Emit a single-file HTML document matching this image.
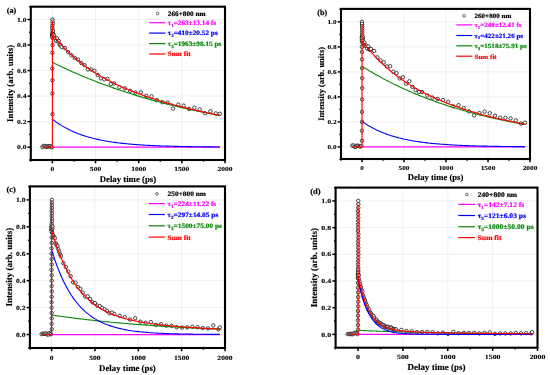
<!DOCTYPE html>
<html lang="en"><head><meta charset="utf-8"><title>Decay fits</title>
<style>html,body{margin:0;padding:0;background:#fff}svg{display:block}</style></head>
<body>
<svg width="550" height="375" viewBox="0 0 550 375" font-family="'Liberation Serif','Times New Roman',serif" font-weight="bold" text-rendering="geometricPrecision">
<rect width="550" height="375" fill="#fff"/>
<g><line x1="52.38" y1="6.7" x2="52.38" y2="160" stroke="#e6e6e6" stroke-width="0.6"/><line x1="95.53" y1="6.7" x2="95.53" y2="160" stroke="#e6e6e6" stroke-width="0.6"/><line x1="138.69" y1="6.7" x2="138.69" y2="160" stroke="#e6e6e6" stroke-width="0.6"/><line x1="181.84" y1="6.7" x2="181.84" y2="160" stroke="#e6e6e6" stroke-width="0.6"/><line x1="30.8" y1="147.22" x2="225" y2="147.22" stroke="#e6e6e6" stroke-width="0.6"/><line x1="30.8" y1="121.67" x2="225" y2="121.67" stroke="#e6e6e6" stroke-width="0.6"/><line x1="30.8" y1="96.12" x2="225" y2="96.12" stroke="#e6e6e6" stroke-width="0.6"/><line x1="30.8" y1="70.57" x2="225" y2="70.57" stroke="#e6e6e6" stroke-width="0.6"/><line x1="30.8" y1="45.02" x2="225" y2="45.02" stroke="#e6e6e6" stroke-width="0.6"/><line x1="30.8" y1="19.47" x2="225" y2="19.47" stroke="#e6e6e6" stroke-width="0.6"/><circle cx="42.45" cy="147.02" r="1.72" fill="#fff" stroke="#181818" stroke-width="0.8"/><circle cx="43.75" cy="145.93" r="1.72" fill="#fff" stroke="#181818" stroke-width="0.8"/><circle cx="44.78" cy="146.05" r="1.72" fill="#fff" stroke="#181818" stroke-width="0.8"/><circle cx="45.9" cy="146.83" r="1.72" fill="#fff" stroke="#181818" stroke-width="0.8"/><circle cx="47.03" cy="146.47" r="1.72" fill="#fff" stroke="#181818" stroke-width="0.8"/><circle cx="48.06" cy="146.54" r="1.72" fill="#fff" stroke="#181818" stroke-width="0.8"/><circle cx="49.1" cy="146.23" r="1.72" fill="#fff" stroke="#181818" stroke-width="0.8"/><circle cx="50.13" cy="146.02" r="1.72" fill="#fff" stroke="#181818" stroke-width="0.8"/><circle cx="51.08" cy="147.08" r="1.72" fill="#fff" stroke="#181818" stroke-width="0.8"/><circle cx="51.86" cy="147.18" r="1.72" fill="#fff" stroke="#181818" stroke-width="0.8"/><circle cx="52.54" cy="114.14" r="1.72" fill="#fff" stroke="#181818" stroke-width="0.8"/><circle cx="52.4" cy="93.44" r="1.72" fill="#fff" stroke="#181818" stroke-width="0.8"/><circle cx="52.51" cy="80.28" r="1.72" fill="#fff" stroke="#181818" stroke-width="0.8"/><circle cx="52.25" cy="68.53" r="1.72" fill="#fff" stroke="#181818" stroke-width="0.8"/><circle cx="52.4" cy="52.69" r="1.72" fill="#fff" stroke="#181818" stroke-width="0.8"/><circle cx="52.5" cy="45.02" r="1.72" fill="#fff" stroke="#181818" stroke-width="0.8"/><circle cx="52.39" cy="19.47" r="1.72" fill="#fff" stroke="#181818" stroke-width="0.8"/><circle cx="52.7" cy="21.65" r="1.72" fill="#fff" stroke="#181818" stroke-width="0.8"/><circle cx="52.68" cy="23.82" r="1.72" fill="#fff" stroke="#181818" stroke-width="0.8"/><circle cx="52.3" cy="25.99" r="1.72" fill="#fff" stroke="#181818" stroke-width="0.8"/><circle cx="52.3" cy="28.16" r="1.72" fill="#fff" stroke="#181818" stroke-width="0.8"/><circle cx="52.53" cy="30.33" r="1.72" fill="#fff" stroke="#181818" stroke-width="0.8"/><circle cx="52.7" cy="32.51" r="1.72" fill="#fff" stroke="#181818" stroke-width="0.8"/><circle cx="52.46" cy="34.68" r="1.72" fill="#fff" stroke="#181818" stroke-width="0.8"/><circle cx="52.37" cy="34.49" r="1.72" fill="#fff" stroke="#181818" stroke-width="0.8"/><circle cx="52.23" cy="36.16" r="1.72" fill="#fff" stroke="#181818" stroke-width="0.8"/><circle cx="52.55" cy="33.88" r="1.72" fill="#fff" stroke="#181818" stroke-width="0.8"/><circle cx="52.39" cy="36.08" r="1.72" fill="#fff" stroke="#181818" stroke-width="0.8"/><circle cx="52.38" cy="34.18" r="1.72" fill="#fff" stroke="#181818" stroke-width="0.8"/><circle cx="52.43" cy="37.82" r="1.72" fill="#fff" stroke="#181818" stroke-width="0.8"/><circle cx="52.86" cy="33.38" r="1.72" fill="#fff" stroke="#181818" stroke-width="0.8"/><circle cx="52.7" cy="36.46" r="1.72" fill="#fff" stroke="#181818" stroke-width="0.8"/><circle cx="52.98" cy="30.86" r="1.72" fill="#fff" stroke="#181818" stroke-width="0.8"/><circle cx="53.07" cy="34.14" r="1.72" fill="#fff" stroke="#181818" stroke-width="0.8"/><circle cx="54.02" cy="35.39" r="1.72" fill="#fff" stroke="#181818" stroke-width="0.8"/><circle cx="54.97" cy="37.83" r="1.72" fill="#fff" stroke="#181818" stroke-width="0.8"/><circle cx="55.92" cy="40.78" r="1.72" fill="#fff" stroke="#181818" stroke-width="0.8"/><circle cx="56.87" cy="38.38" r="1.72" fill="#fff" stroke="#181818" stroke-width="0.8"/><circle cx="57.82" cy="41.42" r="1.72" fill="#fff" stroke="#181818" stroke-width="0.8"/><circle cx="58.76" cy="40.94" r="1.72" fill="#fff" stroke="#181818" stroke-width="0.8"/><circle cx="59.71" cy="44.86" r="1.72" fill="#fff" stroke="#181818" stroke-width="0.8"/><circle cx="60.66" cy="44.7" r="1.72" fill="#fff" stroke="#181818" stroke-width="0.8"/><circle cx="61.61" cy="46.94" r="1.72" fill="#fff" stroke="#181818" stroke-width="0.8"/><circle cx="64.89" cy="48.11" r="1.72" fill="#fff" stroke="#181818" stroke-width="0.8"/><circle cx="68.17" cy="52.14" r="1.72" fill="#fff" stroke="#181818" stroke-width="0.8"/><circle cx="71.45" cy="55.26" r="1.72" fill="#fff" stroke="#181818" stroke-width="0.8"/><circle cx="74.73" cy="57.89" r="1.72" fill="#fff" stroke="#181818" stroke-width="0.8"/><circle cx="78.01" cy="59.56" r="1.72" fill="#fff" stroke="#181818" stroke-width="0.8"/><circle cx="81.29" cy="62.96" r="1.72" fill="#fff" stroke="#181818" stroke-width="0.8"/><circle cx="84.57" cy="65.23" r="1.72" fill="#fff" stroke="#181818" stroke-width="0.8"/><circle cx="87.85" cy="69.4" r="1.72" fill="#fff" stroke="#181818" stroke-width="0.8"/><circle cx="91.13" cy="69.42" r="1.72" fill="#fff" stroke="#181818" stroke-width="0.8"/><circle cx="94.41" cy="70.8" r="1.72" fill="#fff" stroke="#181818" stroke-width="0.8"/><circle cx="97.69" cy="75.01" r="1.72" fill="#fff" stroke="#181818" stroke-width="0.8"/><circle cx="100.97" cy="78.35" r="1.72" fill="#fff" stroke="#181818" stroke-width="0.8"/><circle cx="104.25" cy="79.25" r="1.72" fill="#fff" stroke="#181818" stroke-width="0.8"/><circle cx="107.53" cy="78.89" r="1.72" fill="#fff" stroke="#181818" stroke-width="0.8"/><circle cx="110.81" cy="84.1" r="1.72" fill="#fff" stroke="#181818" stroke-width="0.8"/><circle cx="114.09" cy="83.42" r="1.72" fill="#fff" stroke="#181818" stroke-width="0.8"/><circle cx="119.44" cy="87.21" r="1.72" fill="#fff" stroke="#181818" stroke-width="0.8"/><circle cx="124.79" cy="88.37" r="1.72" fill="#fff" stroke="#181818" stroke-width="0.8"/><circle cx="130.14" cy="90.76" r="1.72" fill="#fff" stroke="#181818" stroke-width="0.8"/><circle cx="135.5" cy="92.5" r="1.72" fill="#fff" stroke="#181818" stroke-width="0.8"/><circle cx="140.85" cy="92.41" r="1.72" fill="#fff" stroke="#181818" stroke-width="0.8"/><circle cx="146.2" cy="95.82" r="1.72" fill="#fff" stroke="#181818" stroke-width="0.8"/><circle cx="151.55" cy="96.33" r="1.72" fill="#fff" stroke="#181818" stroke-width="0.8"/><circle cx="156.9" cy="100.12" r="1.72" fill="#fff" stroke="#181818" stroke-width="0.8"/><circle cx="162.25" cy="102.22" r="1.72" fill="#fff" stroke="#181818" stroke-width="0.8"/><circle cx="167.6" cy="102.57" r="1.72" fill="#fff" stroke="#181818" stroke-width="0.8"/><circle cx="172.95" cy="108.58" r="1.72" fill="#fff" stroke="#181818" stroke-width="0.8"/><circle cx="178.31" cy="104.55" r="1.72" fill="#fff" stroke="#181818" stroke-width="0.8"/><circle cx="183.66" cy="105.63" r="1.72" fill="#fff" stroke="#181818" stroke-width="0.8"/><circle cx="189.01" cy="108.91" r="1.72" fill="#fff" stroke="#181818" stroke-width="0.8"/><circle cx="194.36" cy="107.78" r="1.72" fill="#fff" stroke="#181818" stroke-width="0.8"/><circle cx="199.71" cy="109.41" r="1.72" fill="#fff" stroke="#181818" stroke-width="0.8"/><circle cx="205.06" cy="113.25" r="1.72" fill="#fff" stroke="#181818" stroke-width="0.8"/><circle cx="210.41" cy="111.22" r="1.72" fill="#fff" stroke="#181818" stroke-width="0.8"/><circle cx="215.76" cy="113.38" r="1.72" fill="#fff" stroke="#181818" stroke-width="0.8"/><circle cx="219.82" cy="113.82" r="1.72" fill="#fff" stroke="#181818" stroke-width="0.8"/><path d="M52.38 147.22 L219.99 147.22" stroke="#ff00ff" stroke-width="1.2" fill="none"/><path d="M52.38 62.27 L52.51 62.34 L52.74 62.45 L53.04 62.6 L53.4 62.78 L53.8 62.98 L54.25 63.21 L54.74 63.45 L55.26 63.71 L55.82 63.98 L56.41 64.27 L57.03 64.57 L57.68 64.89 L58.35 65.22 L59.06 65.56 L59.79 65.91 L60.54 66.27 L61.32 66.64 L62.12 67.02 L62.94 67.4 L63.78 67.8 L64.65 68.21 L65.54 68.62 L66.44 69.04 L67.37 69.47 L68.32 69.9 L69.28 70.34 L70.27 70.78 L71.27 71.23 L72.29 71.69 L73.33 72.15 L74.39 72.62 L75.46 73.09 L76.55 73.57 L77.66 74.05 L78.78 74.53 L79.92 75.02 L81.08 75.51 L82.25 76 L83.43 76.5 L84.64 77 L85.85 77.5 L87.08 78.01 L88.33 78.51 L89.59 79.02 L90.87 79.54 L92.16 80.05 L93.46 80.56 L94.78 81.08 L96.11 81.6 L97.46 82.12 L98.82 82.64 L100.19 83.16 L101.58 83.68 L102.98 84.2 L104.39 84.73 L105.81 85.25 L107.25 85.77 L108.7 86.3 L110.16 86.82 L111.64 87.35 L113.13 87.87 L114.63 88.39 L116.14 88.91 L117.66 89.44 L119.2 89.96 L120.75 90.48 L122.31 91 L123.88 91.52 L125.46 92.04 L127.06 92.55 L128.66 93.07 L130.28 93.58 L131.91 94.1 L133.55 94.61 L135.2 95.12 L136.86 95.63 L138.53 96.13 L140.22 96.64 L141.91 97.14 L143.62 97.64 L145.33 98.14 L147.06 98.64 L148.8 99.14 L150.54 99.63 L152.3 100.12 L154.07 100.61 L155.85 101.1 L157.64 101.58 L159.44 102.06 L161.25 102.54 L163.07 103.02 L164.9 103.5 L166.74 103.97 L168.59 104.44 L170.45 104.91 L172.31 105.37 L174.19 105.83 L176.08 106.29 L177.98 106.75 L179.89 107.2 L181.81 107.65 L183.73 108.1 L185.67 108.54 L187.61 108.98 L189.57 109.42 L191.53 109.86 L193.51 110.29 L195.49 110.72 L197.48 111.15 L199.48 111.57 L201.5 111.99 L203.51 112.41 L205.54 112.82 L207.58 113.23 L209.63 113.64 L211.68 114.05 L213.75 114.45 L215.82 114.85 L217.9 115.24 L219.99 115.64" fill="none" stroke="#0a8a0a" stroke-width="1.1" stroke-linejoin="round"/><path d="M52.38 119.12 L52.51 119.22 L52.74 119.4 L53.04 119.64 L53.4 119.92 L53.8 120.23 L54.25 120.57 L54.74 120.93 L55.26 121.32 L55.82 121.73 L56.41 122.15 L57.03 122.58 L57.68 123.03 L58.35 123.49 L59.06 123.95 L59.79 124.43 L60.54 124.91 L61.32 125.39 L62.12 125.88 L62.94 126.37 L63.78 126.86 L64.65 127.36 L65.54 127.85 L66.44 128.34 L67.37 128.83 L68.32 129.31 L69.28 129.79 L70.27 130.27 L71.27 130.75 L72.29 131.21 L73.33 131.68 L74.39 132.14 L75.46 132.59 L76.55 133.03 L77.66 133.47 L78.78 133.9 L79.92 134.32 L81.08 134.73 L82.25 135.14 L83.43 135.54 L84.64 135.93 L85.85 136.31 L87.08 136.69 L88.33 137.05 L89.59 137.41 L90.87 137.75 L92.16 138.09 L93.46 138.42 L94.78 138.75 L96.11 139.06 L97.46 139.36 L98.82 139.66 L100.19 139.95 L101.58 140.23 L102.98 140.5 L104.39 140.76 L105.81 141.02 L107.25 141.26 L108.7 141.5 L110.16 141.73 L111.64 141.96 L113.13 142.18 L114.63 142.39 L116.14 142.59 L117.66 142.78 L119.2 142.97 L120.75 143.15 L122.31 143.33 L123.88 143.5 L125.46 143.66 L127.06 143.82 L128.66 143.97 L130.28 144.12 L131.91 144.26 L133.55 144.39 L135.2 144.52 L136.86 144.64 L138.53 144.76 L140.22 144.88 L141.91 144.99 L143.62 145.09 L145.33 145.19 L147.06 145.29 L148.8 145.38 L150.54 145.47 L152.3 145.56 L154.07 145.64 L155.85 145.72 L157.64 145.79 L159.44 145.86 L161.25 145.93 L163.07 145.99 L164.9 146.06 L166.74 146.12 L168.59 146.17 L170.45 146.23 L172.31 146.28 L174.19 146.33 L176.08 146.37 L177.98 146.42 L179.89 146.46 L181.81 146.5 L183.73 146.54 L185.67 146.57 L187.61 146.61 L189.57 146.64 L191.53 146.67 L193.51 146.7 L195.49 146.73 L197.48 146.76 L199.48 146.79 L201.5 146.81 L203.51 146.83 L205.54 146.85 L207.58 146.88 L209.63 146.89 L211.68 146.91 L213.75 146.93 L215.82 146.95 L217.9 146.96 L219.99 146.98" fill="none" stroke="#0000ff" stroke-width="1.1" stroke-linejoin="round"/><path d="M43.75 147.22 L52.38 147.22 L52.42 21.39 L52.38 34.17 L52.51 34.33 L52.74 34.63 L53.04 35.02 L53.4 35.47 L53.8 35.99 L54.25 36.55 L54.74 37.16 L55.26 37.8 L55.82 38.48 L56.41 39.19 L57.03 39.93 L57.68 40.69 L58.35 41.48 L59.06 42.28 L59.79 43.11 L60.54 43.95 L61.32 44.8 L62.12 45.67 L62.94 46.55 L63.78 47.44 L64.65 48.34 L65.54 49.24 L66.44 50.15 L67.37 51.07 L68.32 51.99 L69.28 52.91 L70.27 53.83 L71.27 54.76 L72.29 55.68 L73.33 56.61 L74.39 57.53 L75.46 58.45 L76.55 59.37 L77.66 60.29 L78.78 61.2 L79.92 62.11 L81.08 63.02 L82.25 63.92 L83.43 64.81 L84.64 65.7 L85.85 66.59 L87.08 67.47 L88.33 68.34 L89.59 69.21 L90.87 70.06 L92.16 70.92 L93.46 71.76 L94.78 72.6 L96.11 73.43 L97.46 74.26 L98.82 75.07 L100.19 75.88 L101.58 76.68 L102.98 77.48 L104.39 78.26 L105.81 79.04 L107.25 79.81 L108.7 80.58 L110.16 81.33 L111.64 82.08 L113.13 82.82 L114.63 83.55 L116.14 84.28 L117.66 85 L119.2 85.71 L120.75 86.41 L122.31 87.1 L123.88 87.79 L125.46 88.47 L127.06 89.15 L128.66 89.81 L130.28 90.47 L131.91 91.13 L133.55 91.77 L135.2 92.41 L136.86 93.05 L138.53 93.67 L140.22 94.29 L141.91 94.9 L143.62 95.51 L145.33 96.11 L147.06 96.71 L148.8 97.29 L150.54 97.88 L152.3 98.45 L154.07 99.02 L155.85 99.59 L157.64 100.15 L159.44 100.7 L161.25 101.25 L163.07 101.79 L164.9 102.33 L166.74 102.86 L168.59 103.38 L170.45 103.91 L172.31 104.42 L174.19 104.93 L176.08 105.44 L177.98 105.94 L179.89 106.43 L181.81 106.92 L183.73 107.41 L185.67 107.89 L187.61 108.37 L189.57 108.84 L191.53 109.31 L193.51 109.77 L195.49 110.23 L197.48 110.68 L199.48 111.13 L201.5 111.58 L203.51 112.02 L205.54 112.45 L207.58 112.88 L209.63 113.31 L211.68 113.74 L213.75 114.16 L215.82 114.57 L217.9 114.98 L219.99 115.39" fill="none" stroke="#ff0000" stroke-width="1.15" stroke-linejoin="round"/><rect x="30.8" y="6.7" width="194.2" height="153.3" fill="none" stroke="#000" stroke-width="2.1"/><line x1="52.38" y1="160" x2="52.38" y2="163.3" stroke="#000" stroke-width="1.5"/><line x1="95.53" y1="160" x2="95.53" y2="163.3" stroke="#000" stroke-width="1.5"/><line x1="138.69" y1="160" x2="138.69" y2="163.3" stroke="#000" stroke-width="1.5"/><line x1="181.84" y1="160" x2="181.84" y2="163.3" stroke="#000" stroke-width="1.5"/><line x1="225" y1="160" x2="225" y2="163.3" stroke="#000" stroke-width="1.5"/><line x1="30.8" y1="160" x2="30.8" y2="161.7" stroke="#000" stroke-width="1.3"/><line x1="73.96" y1="160" x2="73.96" y2="161.7" stroke="#000" stroke-width="1.3"/><line x1="117.11" y1="160" x2="117.11" y2="161.7" stroke="#000" stroke-width="1.3"/><line x1="160.27" y1="160" x2="160.27" y2="161.7" stroke="#000" stroke-width="1.3"/><line x1="203.42" y1="160" x2="203.42" y2="161.7" stroke="#000" stroke-width="1.3"/><line x1="27.5" y1="147.22" x2="30.8" y2="147.22" stroke="#000" stroke-width="1.5"/><line x1="27.5" y1="121.67" x2="30.8" y2="121.67" stroke="#000" stroke-width="1.5"/><line x1="27.5" y1="96.12" x2="30.8" y2="96.12" stroke="#000" stroke-width="1.5"/><line x1="27.5" y1="70.57" x2="30.8" y2="70.57" stroke="#000" stroke-width="1.5"/><line x1="27.5" y1="45.02" x2="30.8" y2="45.02" stroke="#000" stroke-width="1.5"/><line x1="27.5" y1="19.47" x2="30.8" y2="19.47" stroke="#000" stroke-width="1.5"/><line x1="29.1" y1="160" x2="30.8" y2="160" stroke="#000" stroke-width="1.3"/><line x1="29.1" y1="134.45" x2="30.8" y2="134.45" stroke="#000" stroke-width="1.3"/><line x1="29.1" y1="108.9" x2="30.8" y2="108.9" stroke="#000" stroke-width="1.3"/><line x1="29.1" y1="83.35" x2="30.8" y2="83.35" stroke="#000" stroke-width="1.3"/><line x1="29.1" y1="57.8" x2="30.8" y2="57.8" stroke="#000" stroke-width="1.3"/><line x1="29.1" y1="32.25" x2="30.8" y2="32.25" stroke="#000" stroke-width="1.3"/><line x1="29.1" y1="6.7" x2="30.8" y2="6.7" stroke="#000" stroke-width="1.3"/><text transform="translate(52.38 170.8) scale(1.05 0.86)" font-size="7.2" text-anchor="middle" stroke="#000" stroke-width="0.12">0</text><text transform="translate(95.53 170.8) scale(1.05 0.86)" font-size="7.2" text-anchor="middle" stroke="#000" stroke-width="0.12">500</text><text transform="translate(138.69 170.8) scale(1.05 0.86)" font-size="7.2" text-anchor="middle" stroke="#000" stroke-width="0.12">1000</text><text transform="translate(181.84 170.8) scale(1.05 0.86)" font-size="7.2" text-anchor="middle" stroke="#000" stroke-width="0.12">1500</text><text transform="translate(225 170.8) scale(1.05 0.86)" font-size="7.2" text-anchor="middle" stroke="#000" stroke-width="0.12">2000</text><text transform="translate(26.4 149.31) scale(1.05 0.86)" font-size="7.2" text-anchor="end" stroke="#000" stroke-width="0.12">0.0</text><text transform="translate(26.4 123.76) scale(1.05 0.86)" font-size="7.2" text-anchor="end" stroke="#000" stroke-width="0.12">0.2</text><text transform="translate(26.4 98.21) scale(1.05 0.86)" font-size="7.2" text-anchor="end" stroke="#000" stroke-width="0.12">0.4</text><text transform="translate(26.4 72.66) scale(1.05 0.86)" font-size="7.2" text-anchor="end" stroke="#000" stroke-width="0.12">0.6</text><text transform="translate(26.4 47.11) scale(1.05 0.86)" font-size="7.2" text-anchor="end" stroke="#000" stroke-width="0.12">0.8</text><text transform="translate(26.4 21.56) scale(1.05 0.86)" font-size="7.2" text-anchor="end" stroke="#000" stroke-width="0.12">1.0</text><text x="127.9" y="182.4" font-size="8.75" text-anchor="middle" stroke="#000" stroke-width="0.15">Delay time (ps)</text><text transform="translate(12.8 83.35) rotate(-90)" font-size="8.75" text-anchor="middle" stroke="#000" stroke-width="0.15">Intensity (arb. units)</text><text transform="translate(6.7 12.9) scale(0.97 0.92)" font-size="8.5" stroke="#000" stroke-width="0.22">(a)</text><circle cx="157.6" cy="13.5" r="1.35" fill="#fff" stroke="#202020" stroke-width="0.65"/><text transform="translate(167.8 15.88) scale(1.01 0.93)" font-size="7.2" stroke="#000" stroke-width="0.22">266+800 nm</text><line x1="149.1" y1="22.7" x2="165.5" y2="22.7" stroke="#ff00ff" stroke-width="1.2"/><text transform="translate(167.8 25.08) scale(1.01 0.93)" font-size="7.2" fill="#ff00ff" stroke="#ff00ff" stroke-width="0.22">τ<tspan font-size="5.04" dy="1.8">1</tspan><tspan dy="-1.8">=263±13.14 fs</tspan></text><line x1="149.1" y1="33.1" x2="165.5" y2="33.1" stroke="#0000ff" stroke-width="1.2"/><text transform="translate(167.8 35.48) scale(1.01 0.93)" font-size="7.2" fill="#0000ff" stroke="#0000ff" stroke-width="0.22">τ<tspan font-size="5.04" dy="1.8">2</tspan><tspan dy="-1.8">=410±20.52 ps</tspan></text><line x1="149.1" y1="43.6" x2="165.5" y2="43.6" stroke="#0a8a0a" stroke-width="1.2"/><text transform="translate(167.8 45.98) scale(1.01 0.93)" font-size="7.2" fill="#0a8a0a" stroke="#0a8a0a" stroke-width="0.22">τ<tspan font-size="5.04" dy="1.8">3</tspan><tspan dy="-1.8">=1963±98.15 ps</tspan></text><line x1="149.1" y1="54" x2="165.5" y2="54" stroke="#ff0000" stroke-width="1.2"/><text transform="translate(167.8 56.38) scale(1.01 0.93)" font-size="7.2" fill="#ff0000" stroke="#ff0000" stroke-width="0.22">Sum fit</text></g>
<g><line x1="362" y1="8.9" x2="362" y2="159" stroke="#e6e6e6" stroke-width="0.6"/><line x1="404" y1="8.9" x2="404" y2="159" stroke="#e6e6e6" stroke-width="0.6"/><line x1="446" y1="8.9" x2="446" y2="159" stroke="#e6e6e6" stroke-width="0.6"/><line x1="488" y1="8.9" x2="488" y2="159" stroke="#e6e6e6" stroke-width="0.6"/><line x1="341" y1="146.94" x2="530" y2="146.94" stroke="#e6e6e6" stroke-width="0.6"/><line x1="341" y1="121.92" x2="530" y2="121.92" stroke="#e6e6e6" stroke-width="0.6"/><line x1="341" y1="96.91" x2="530" y2="96.91" stroke="#e6e6e6" stroke-width="0.6"/><line x1="341" y1="71.89" x2="530" y2="71.89" stroke="#e6e6e6" stroke-width="0.6"/><line x1="341" y1="46.88" x2="530" y2="46.88" stroke="#e6e6e6" stroke-width="0.6"/><line x1="341" y1="21.86" x2="530" y2="21.86" stroke="#e6e6e6" stroke-width="0.6"/><circle cx="352.34" cy="145.51" r="1.72" fill="#fff" stroke="#181818" stroke-width="0.8"/><circle cx="353.6" cy="145.52" r="1.72" fill="#fff" stroke="#181818" stroke-width="0.8"/><circle cx="354.61" cy="146.86" r="1.72" fill="#fff" stroke="#181818" stroke-width="0.8"/><circle cx="355.7" cy="146.81" r="1.72" fill="#fff" stroke="#181818" stroke-width="0.8"/><circle cx="356.79" cy="145.69" r="1.72" fill="#fff" stroke="#181818" stroke-width="0.8"/><circle cx="357.8" cy="145.84" r="1.72" fill="#fff" stroke="#181818" stroke-width="0.8"/><circle cx="358.81" cy="145.94" r="1.72" fill="#fff" stroke="#181818" stroke-width="0.8"/><circle cx="359.82" cy="146.48" r="1.72" fill="#fff" stroke="#181818" stroke-width="0.8"/><circle cx="360.74" cy="146.03" r="1.72" fill="#fff" stroke="#181818" stroke-width="0.8"/><circle cx="361.5" cy="146.03" r="1.72" fill="#fff" stroke="#181818" stroke-width="0.8"/><circle cx="362.07" cy="140.69" r="1.72" fill="#fff" stroke="#181818" stroke-width="0.8"/><circle cx="361.93" cy="130.68" r="1.72" fill="#fff" stroke="#181818" stroke-width="0.8"/><circle cx="362.02" cy="121.92" r="1.72" fill="#fff" stroke="#181818" stroke-width="0.8"/><circle cx="362.01" cy="111.92" r="1.72" fill="#fff" stroke="#181818" stroke-width="0.8"/><circle cx="362.12" cy="99.41" r="1.72" fill="#fff" stroke="#181818" stroke-width="0.8"/><circle cx="362.21" cy="88.15" r="1.72" fill="#fff" stroke="#181818" stroke-width="0.8"/><circle cx="362.19" cy="78.15" r="1.72" fill="#fff" stroke="#181818" stroke-width="0.8"/><circle cx="362.06" cy="68.14" r="1.72" fill="#fff" stroke="#181818" stroke-width="0.8"/><circle cx="362.02" cy="59.38" r="1.72" fill="#fff" stroke="#181818" stroke-width="0.8"/><circle cx="361.96" cy="51.88" r="1.72" fill="#fff" stroke="#181818" stroke-width="0.8"/><circle cx="361.89" cy="46.88" r="1.72" fill="#fff" stroke="#181818" stroke-width="0.8"/><circle cx="361.93" cy="21.86" r="1.72" fill="#fff" stroke="#181818" stroke-width="0.8"/><circle cx="362.11" cy="23.98" r="1.72" fill="#fff" stroke="#181818" stroke-width="0.8"/><circle cx="362.05" cy="26.11" r="1.72" fill="#fff" stroke="#181818" stroke-width="0.8"/><circle cx="362.08" cy="28.24" r="1.72" fill="#fff" stroke="#181818" stroke-width="0.8"/><circle cx="362.29" cy="30.36" r="1.72" fill="#fff" stroke="#181818" stroke-width="0.8"/><circle cx="362.14" cy="32.49" r="1.72" fill="#fff" stroke="#181818" stroke-width="0.8"/><circle cx="362.15" cy="34.62" r="1.72" fill="#fff" stroke="#181818" stroke-width="0.8"/><circle cx="362.02" cy="36.74" r="1.72" fill="#fff" stroke="#181818" stroke-width="0.8"/><circle cx="361.93" cy="38.87" r="1.72" fill="#fff" stroke="#181818" stroke-width="0.8"/><circle cx="362.05" cy="41" r="1.72" fill="#fff" stroke="#181818" stroke-width="0.8"/><circle cx="361.94" cy="40.23" r="1.72" fill="#fff" stroke="#181818" stroke-width="0.8"/><circle cx="362.59" cy="38.89" r="1.72" fill="#fff" stroke="#181818" stroke-width="0.8"/><circle cx="361.97" cy="37.11" r="1.72" fill="#fff" stroke="#181818" stroke-width="0.8"/><circle cx="362.43" cy="38.4" r="1.72" fill="#fff" stroke="#181818" stroke-width="0.8"/><circle cx="362.52" cy="38.17" r="1.72" fill="#fff" stroke="#181818" stroke-width="0.8"/><circle cx="362.43" cy="41.5" r="1.72" fill="#fff" stroke="#181818" stroke-width="0.8"/><circle cx="362.57" cy="36.55" r="1.72" fill="#fff" stroke="#181818" stroke-width="0.8"/><circle cx="361.95" cy="38.24" r="1.72" fill="#fff" stroke="#181818" stroke-width="0.8"/><circle cx="362.37" cy="40.62" r="1.72" fill="#fff" stroke="#181818" stroke-width="0.8"/><circle cx="362.67" cy="43.09" r="1.72" fill="#fff" stroke="#181818" stroke-width="0.8"/><circle cx="363.6" cy="43.06" r="1.72" fill="#fff" stroke="#181818" stroke-width="0.8"/><circle cx="364.52" cy="42.51" r="1.72" fill="#fff" stroke="#181818" stroke-width="0.8"/><circle cx="365.44" cy="45.88" r="1.72" fill="#fff" stroke="#181818" stroke-width="0.8"/><circle cx="366.37" cy="45.68" r="1.72" fill="#fff" stroke="#181818" stroke-width="0.8"/><circle cx="367.29" cy="48.58" r="1.72" fill="#fff" stroke="#181818" stroke-width="0.8"/><circle cx="368.22" cy="46.4" r="1.72" fill="#fff" stroke="#181818" stroke-width="0.8"/><circle cx="369.14" cy="49.17" r="1.72" fill="#fff" stroke="#181818" stroke-width="0.8"/><circle cx="370.06" cy="50.01" r="1.72" fill="#fff" stroke="#181818" stroke-width="0.8"/><circle cx="370.99" cy="48.92" r="1.72" fill="#fff" stroke="#181818" stroke-width="0.8"/><circle cx="374.18" cy="50.99" r="1.72" fill="#fff" stroke="#181818" stroke-width="0.8"/><circle cx="377.37" cy="57.36" r="1.72" fill="#fff" stroke="#181818" stroke-width="0.8"/><circle cx="380.56" cy="60.47" r="1.72" fill="#fff" stroke="#181818" stroke-width="0.8"/><circle cx="383.76" cy="62.45" r="1.72" fill="#fff" stroke="#181818" stroke-width="0.8"/><circle cx="386.95" cy="66.38" r="1.72" fill="#fff" stroke="#181818" stroke-width="0.8"/><circle cx="390.14" cy="66.24" r="1.72" fill="#fff" stroke="#181818" stroke-width="0.8"/><circle cx="393.33" cy="71.73" r="1.72" fill="#fff" stroke="#181818" stroke-width="0.8"/><circle cx="396.52" cy="73.12" r="1.72" fill="#fff" stroke="#181818" stroke-width="0.8"/><circle cx="399.72" cy="78.42" r="1.72" fill="#fff" stroke="#181818" stroke-width="0.8"/><circle cx="402.91" cy="77.31" r="1.72" fill="#fff" stroke="#181818" stroke-width="0.8"/><circle cx="406.1" cy="83.73" r="1.72" fill="#fff" stroke="#181818" stroke-width="0.8"/><circle cx="409.29" cy="81.29" r="1.72" fill="#fff" stroke="#181818" stroke-width="0.8"/><circle cx="412.48" cy="86.91" r="1.72" fill="#fff" stroke="#181818" stroke-width="0.8"/><circle cx="415.68" cy="89.91" r="1.72" fill="#fff" stroke="#181818" stroke-width="0.8"/><circle cx="418.87" cy="92.12" r="1.72" fill="#fff" stroke="#181818" stroke-width="0.8"/><circle cx="422.06" cy="92.08" r="1.72" fill="#fff" stroke="#181818" stroke-width="0.8"/><circle cx="427.27" cy="95.53" r="1.72" fill="#fff" stroke="#181818" stroke-width="0.8"/><circle cx="432.48" cy="97.63" r="1.72" fill="#fff" stroke="#181818" stroke-width="0.8"/><circle cx="437.68" cy="98.91" r="1.72" fill="#fff" stroke="#181818" stroke-width="0.8"/><circle cx="442.89" cy="99.95" r="1.72" fill="#fff" stroke="#181818" stroke-width="0.8"/><circle cx="448.1" cy="101.85" r="1.72" fill="#fff" stroke="#181818" stroke-width="0.8"/><circle cx="453.31" cy="106.34" r="1.72" fill="#fff" stroke="#181818" stroke-width="0.8"/><circle cx="458.52" cy="105.14" r="1.72" fill="#fff" stroke="#181818" stroke-width="0.8"/><circle cx="463.72" cy="107.99" r="1.72" fill="#fff" stroke="#181818" stroke-width="0.8"/><circle cx="468.93" cy="111.26" r="1.72" fill="#fff" stroke="#181818" stroke-width="0.8"/><circle cx="474.14" cy="115.34" r="1.72" fill="#fff" stroke="#181818" stroke-width="0.8"/><circle cx="479.35" cy="113.04" r="1.72" fill="#fff" stroke="#181818" stroke-width="0.8"/><circle cx="484.56" cy="111.65" r="1.72" fill="#fff" stroke="#181818" stroke-width="0.8"/><circle cx="489.76" cy="113.25" r="1.72" fill="#fff" stroke="#181818" stroke-width="0.8"/><circle cx="494.97" cy="115.68" r="1.72" fill="#fff" stroke="#181818" stroke-width="0.8"/><circle cx="500.18" cy="117.77" r="1.72" fill="#fff" stroke="#181818" stroke-width="0.8"/><circle cx="505.39" cy="117.81" r="1.72" fill="#fff" stroke="#181818" stroke-width="0.8"/><circle cx="510.6" cy="118.43" r="1.72" fill="#fff" stroke="#181818" stroke-width="0.8"/><circle cx="515.8" cy="120.42" r="1.72" fill="#fff" stroke="#181818" stroke-width="0.8"/><circle cx="521.01" cy="123.64" r="1.72" fill="#fff" stroke="#181818" stroke-width="0.8"/><circle cx="524.96" cy="122.71" r="1.72" fill="#fff" stroke="#181818" stroke-width="0.8"/><path d="M362 146.94 L525.13 146.94" stroke="#ff00ff" stroke-width="1.2" fill="none"/><path d="M362 66.26 L362.12 66.34 L362.35 66.48 L362.64 66.67 L362.99 66.89 L363.39 67.14 L363.82 67.41 L364.3 67.7 L364.81 68.02 L365.35 68.36 L365.92 68.71 L366.53 69.08 L367.16 69.46 L367.82 69.86 L368.5 70.27 L369.21 70.7 L369.94 71.13 L370.7 71.58 L371.48 72.04 L372.28 72.51 L373.1 72.99 L373.94 73.48 L374.81 73.97 L375.69 74.48 L376.59 74.99 L377.51 75.5 L378.45 76.03 L379.41 76.56 L380.39 77.1 L381.38 77.64 L382.39 78.19 L383.42 78.74 L384.46 79.29 L385.52 79.86 L386.6 80.42 L387.7 80.99 L388.8 81.56 L389.93 82.13 L391.07 82.71 L392.22 83.29 L393.39 83.87 L394.58 84.45 L395.78 85.04 L396.99 85.62 L398.22 86.21 L399.46 86.8 L400.72 87.39 L401.99 87.98 L403.27 88.57 L404.56 89.16 L405.87 89.75 L407.2 90.34 L408.53 90.93 L409.88 91.52 L411.24 92.11 L412.62 92.7 L414 93.28 L415.4 93.87 L416.81 94.45 L418.24 95.04 L419.67 95.62 L421.12 96.2 L422.58 96.77 L424.05 97.35 L425.54 97.92 L427.03 98.49 L428.54 99.06 L430.06 99.63 L431.59 100.19 L433.13 100.76 L434.68 101.31 L436.24 101.87 L437.82 102.42 L439.4 102.97 L441 103.52 L442.6 104.06 L444.22 104.6 L445.85 105.14 L447.49 105.68 L449.14 106.21 L450.8 106.73 L452.47 107.26 L454.15 107.77 L455.84 108.29 L457.54 108.8 L459.25 109.31 L460.97 109.82 L462.7 110.32 L464.44 110.81 L466.19 111.31 L467.95 111.79 L469.73 112.28 L471.51 112.76 L473.3 113.24 L475.1 113.71 L476.91 114.18 L478.72 114.64 L480.55 115.1 L482.39 115.56 L484.24 116.01 L486.1 116.46 L487.96 116.9 L489.84 117.34 L491.72 117.77 L493.62 118.2 L495.52 118.63 L497.43 119.05 L499.35 119.47 L501.28 119.88 L503.22 120.29 L505.17 120.69 L507.12 121.09 L509.09 121.49 L511.06 121.88 L513.05 122.26 L515.04 122.65 L517.04 123.02 L519.05 123.4 L521.07 123.77 L523.09 124.13 L525.13 124.49" fill="none" stroke="#0a8a0a" stroke-width="1.1" stroke-linejoin="round"/><path d="M362 121.3 L362.12 121.39 L362.35 121.55 L362.64 121.76 L362.99 122.01 L363.39 122.28 L363.82 122.59 L364.3 122.91 L364.81 123.25 L365.35 123.61 L365.92 123.99 L366.53 124.37 L367.16 124.77 L367.82 125.18 L368.5 125.6 L369.21 126.02 L369.94 126.45 L370.7 126.88 L371.48 127.32 L372.28 127.75 L373.1 128.19 L373.94 128.63 L374.81 129.07 L375.69 129.51 L376.59 129.95 L377.51 130.39 L378.45 130.82 L379.41 131.25 L380.39 131.68 L381.38 132.1 L382.39 132.52 L383.42 132.93 L384.46 133.34 L385.52 133.74 L386.6 134.13 L387.7 134.52 L388.8 134.9 L389.93 135.28 L391.07 135.65 L392.22 136.01 L393.39 136.37 L394.58 136.71 L395.78 137.05 L396.99 137.39 L398.22 137.71 L399.46 138.03 L400.72 138.34 L401.99 138.64 L403.27 138.94 L404.56 139.22 L405.87 139.5 L407.2 139.78 L408.53 140.04 L409.88 140.3 L411.24 140.55 L412.62 140.79 L414 141.03 L415.4 141.26 L416.81 141.48 L418.24 141.69 L419.67 141.9 L421.12 142.1 L422.58 142.3 L424.05 142.49 L425.54 142.67 L427.03 142.85 L428.54 143.02 L430.06 143.18 L431.59 143.34 L433.13 143.49 L434.68 143.64 L436.24 143.78 L437.82 143.92 L439.4 144.05 L441 144.18 L442.6 144.3 L444.22 144.42 L445.85 144.53 L447.49 144.64 L449.14 144.75 L450.8 144.85 L452.47 144.94 L454.15 145.04 L455.84 145.12 L457.54 145.21 L459.25 145.29 L460.97 145.37 L462.7 145.44 L464.44 145.52 L466.19 145.59 L467.95 145.65 L469.73 145.71 L471.51 145.77 L473.3 145.83 L475.1 145.89 L476.91 145.94 L478.72 145.99 L480.55 146.04 L482.39 146.08 L484.24 146.13 L486.1 146.17 L487.96 146.21 L489.84 146.25 L491.72 146.28 L493.62 146.32 L495.52 146.35 L497.43 146.38 L499.35 146.41 L501.28 146.44 L503.22 146.46 L505.17 146.49 L507.12 146.51 L509.09 146.54 L511.06 146.56 L513.05 146.58 L515.04 146.6 L517.04 146.62 L519.05 146.64 L521.07 146.65 L523.09 146.67 L525.13 146.68" fill="none" stroke="#0000ff" stroke-width="1.1" stroke-linejoin="round"/><path d="M353.6 146.94 L362 146.94 L362.04 25.61 L362 40.62 L362.12 40.79 L362.35 41.1 L362.64 41.49 L362.99 41.95 L363.39 42.48 L363.82 43.05 L364.3 43.67 L364.81 44.33 L365.35 45.03 L365.92 45.75 L366.53 46.51 L367.16 47.29 L367.82 48.1 L368.5 48.93 L369.21 49.77 L369.94 50.64 L370.7 51.52 L371.48 52.42 L372.28 53.32 L373.1 54.24 L373.94 55.17 L374.81 56.1 L375.69 57.05 L376.59 58 L377.51 58.95 L378.45 59.91 L379.41 60.87 L380.39 61.83 L381.38 62.8 L382.39 63.76 L383.42 64.72 L384.46 65.69 L385.52 66.65 L386.6 67.61 L387.7 68.57 L388.8 69.52 L389.93 70.47 L391.07 71.42 L392.22 72.36 L393.39 73.29 L394.58 74.22 L395.78 75.15 L396.99 76.07 L398.22 76.98 L399.46 77.89 L400.72 78.79 L401.99 79.68 L403.27 80.57 L404.56 81.44 L405.87 82.31 L407.2 83.18 L408.53 84.03 L409.88 84.88 L411.24 85.72 L412.62 86.55 L414 87.37 L415.4 88.18 L416.81 88.99 L418.24 89.79 L419.67 90.58 L421.12 91.36 L422.58 92.13 L424.05 92.9 L425.54 93.65 L427.03 94.4 L428.54 95.14 L430.06 95.87 L431.59 96.59 L433.13 97.31 L434.68 98.01 L436.24 98.71 L437.82 99.4 L439.4 100.08 L441 100.76 L442.6 101.42 L444.22 102.08 L445.85 102.73 L447.49 103.38 L449.14 104.01 L450.8 104.64 L452.47 105.26 L454.15 105.87 L455.84 106.47 L457.54 107.07 L459.25 107.66 L460.97 108.24 L462.7 108.82 L464.44 109.39 L466.19 109.95 L467.95 110.5 L469.73 111.05 L471.51 111.59 L473.3 112.13 L475.1 112.65 L476.91 113.17 L478.72 113.69 L480.55 114.2 L482.39 114.7 L484.24 115.19 L486.1 115.68 L487.96 116.16 L489.84 116.64 L491.72 117.11 L493.62 117.58 L495.52 118.03 L497.43 118.49 L499.35 118.93 L501.28 119.37 L503.22 119.81 L505.17 120.24 L507.12 120.66 L509.09 121.08 L511.06 121.49 L513.05 121.9 L515.04 122.3 L517.04 122.7 L519.05 123.09 L521.07 123.48 L523.09 123.86 L525.13 124.24" fill="none" stroke="#ff0000" stroke-width="1.15" stroke-linejoin="round"/><rect x="341" y="8.9" width="189" height="150.1" fill="none" stroke="#000" stroke-width="2.1"/><line x1="362" y1="159" x2="362" y2="162.3" stroke="#000" stroke-width="1.5"/><line x1="404" y1="159" x2="404" y2="162.3" stroke="#000" stroke-width="1.5"/><line x1="446" y1="159" x2="446" y2="162.3" stroke="#000" stroke-width="1.5"/><line x1="488" y1="159" x2="488" y2="162.3" stroke="#000" stroke-width="1.5"/><line x1="530" y1="159" x2="530" y2="162.3" stroke="#000" stroke-width="1.5"/><line x1="341" y1="159" x2="341" y2="160.7" stroke="#000" stroke-width="1.3"/><line x1="383" y1="159" x2="383" y2="160.7" stroke="#000" stroke-width="1.3"/><line x1="425" y1="159" x2="425" y2="160.7" stroke="#000" stroke-width="1.3"/><line x1="467" y1="159" x2="467" y2="160.7" stroke="#000" stroke-width="1.3"/><line x1="509" y1="159" x2="509" y2="160.7" stroke="#000" stroke-width="1.3"/><line x1="337.7" y1="146.94" x2="341" y2="146.94" stroke="#000" stroke-width="1.5"/><line x1="337.7" y1="121.92" x2="341" y2="121.92" stroke="#000" stroke-width="1.5"/><line x1="337.7" y1="96.91" x2="341" y2="96.91" stroke="#000" stroke-width="1.5"/><line x1="337.7" y1="71.89" x2="341" y2="71.89" stroke="#000" stroke-width="1.5"/><line x1="337.7" y1="46.88" x2="341" y2="46.88" stroke="#000" stroke-width="1.5"/><line x1="337.7" y1="21.86" x2="341" y2="21.86" stroke="#000" stroke-width="1.5"/><line x1="339.3" y1="159.45" x2="341" y2="159.45" stroke="#000" stroke-width="1.3"/><line x1="339.3" y1="134.43" x2="341" y2="134.43" stroke="#000" stroke-width="1.3"/><line x1="339.3" y1="109.42" x2="341" y2="109.42" stroke="#000" stroke-width="1.3"/><line x1="339.3" y1="84.4" x2="341" y2="84.4" stroke="#000" stroke-width="1.3"/><line x1="339.3" y1="59.38" x2="341" y2="59.38" stroke="#000" stroke-width="1.3"/><line x1="339.3" y1="34.37" x2="341" y2="34.37" stroke="#000" stroke-width="1.3"/><line x1="339.3" y1="9.35" x2="341" y2="9.35" stroke="#000" stroke-width="1.3"/><text transform="translate(362 169.5) scale(1.05 0.86)" font-size="7.0" text-anchor="middle" stroke="#000" stroke-width="0.12">0</text><text transform="translate(404 169.5) scale(1.05 0.86)" font-size="7.0" text-anchor="middle" stroke="#000" stroke-width="0.12">500</text><text transform="translate(446 169.5) scale(1.05 0.86)" font-size="7.0" text-anchor="middle" stroke="#000" stroke-width="0.12">1000</text><text transform="translate(488 169.5) scale(1.05 0.86)" font-size="7.0" text-anchor="middle" stroke="#000" stroke-width="0.12">1500</text><text transform="translate(530 169.5) scale(1.05 0.86)" font-size="7.0" text-anchor="middle" stroke="#000" stroke-width="0.12">2000</text><text transform="translate(336.6 148.97) scale(1.05 0.86)" font-size="7.0" text-anchor="end" stroke="#000" stroke-width="0.12">0.0</text><text transform="translate(336.6 123.95) scale(1.05 0.86)" font-size="7.0" text-anchor="end" stroke="#000" stroke-width="0.12">0.2</text><text transform="translate(336.6 98.94) scale(1.05 0.86)" font-size="7.0" text-anchor="end" stroke="#000" stroke-width="0.12">0.4</text><text transform="translate(336.6 73.92) scale(1.05 0.86)" font-size="7.0" text-anchor="end" stroke="#000" stroke-width="0.12">0.6</text><text transform="translate(336.6 48.91) scale(1.05 0.86)" font-size="7.0" text-anchor="end" stroke="#000" stroke-width="0.12">0.8</text><text transform="translate(336.6 23.89) scale(1.05 0.86)" font-size="7.0" text-anchor="end" stroke="#000" stroke-width="0.12">1.0</text><text x="435.5" y="179.6" font-size="8.65" text-anchor="middle" stroke="#000" stroke-width="0.15">Delay time (ps)</text><text transform="translate(324.1 83.95) rotate(-90)" font-size="8.4" text-anchor="middle" stroke="#000" stroke-width="0.15">Intensity (arb. units)</text><text transform="translate(317.3 14.8) scale(0.97 0.92)" font-size="8.3" stroke="#000" stroke-width="0.22">(b)</text><circle cx="464.1" cy="15.8" r="1.35" fill="#fff" stroke="#202020" stroke-width="0.65"/><text transform="translate(474.5 18.11) scale(1.01 0.93)" font-size="7.0" stroke="#000" stroke-width="0.22">260+800 nm</text><line x1="456.3" y1="24.9" x2="472.3" y2="24.9" stroke="#ff00ff" stroke-width="1.2"/><text transform="translate(474.5 27.21) scale(1.01 0.93)" font-size="7.0" fill="#ff00ff" stroke="#ff00ff" stroke-width="0.22">τ<tspan font-size="4.9" dy="1.75">1</tspan><tspan dy="-1.75">=248±12.41 fs</tspan></text><line x1="456.3" y1="35.5" x2="472.3" y2="35.5" stroke="#0000ff" stroke-width="1.2"/><text transform="translate(474.5 37.81) scale(1.01 0.93)" font-size="7.0" fill="#0000ff" stroke="#0000ff" stroke-width="0.22">τ<tspan font-size="4.9" dy="1.75">2</tspan><tspan dy="-1.75">=422±21.26 ps</tspan></text><line x1="456.3" y1="45.8" x2="472.3" y2="45.8" stroke="#0a8a0a" stroke-width="1.2"/><text transform="translate(474.5 48.11) scale(1.01 0.93)" font-size="7.0" fill="#0a8a0a" stroke="#0a8a0a" stroke-width="0.22">τ<tspan font-size="4.9" dy="1.75">3</tspan><tspan dy="-1.75">=1518±75.91 ps</tspan></text><line x1="456.3" y1="56.2" x2="472.3" y2="56.2" stroke="#ff0000" stroke-width="1.2"/><text transform="translate(474.5 58.51) scale(1.01 0.93)" font-size="7.0" fill="#ff0000" stroke="#ff0000" stroke-width="0.22">Sum fit</text></g>
<g><line x1="51.58" y1="186.4" x2="51.58" y2="348" stroke="#e6e6e6" stroke-width="0.6"/><line x1="94.93" y1="186.4" x2="94.93" y2="348" stroke="#e6e6e6" stroke-width="0.6"/><line x1="138.29" y1="186.4" x2="138.29" y2="348" stroke="#e6e6e6" stroke-width="0.6"/><line x1="181.64" y1="186.4" x2="181.64" y2="348" stroke="#e6e6e6" stroke-width="0.6"/><line x1="29.9" y1="334.53" x2="225" y2="334.53" stroke="#e6e6e6" stroke-width="0.6"/><line x1="29.9" y1="307.6" x2="225" y2="307.6" stroke="#e6e6e6" stroke-width="0.6"/><line x1="29.9" y1="280.67" x2="225" y2="280.67" stroke="#e6e6e6" stroke-width="0.6"/><line x1="29.9" y1="253.73" x2="225" y2="253.73" stroke="#e6e6e6" stroke-width="0.6"/><line x1="29.9" y1="226.8" x2="225" y2="226.8" stroke="#e6e6e6" stroke-width="0.6"/><line x1="29.9" y1="199.87" x2="225" y2="199.87" stroke="#e6e6e6" stroke-width="0.6"/><circle cx="41.61" cy="334.15" r="1.72" fill="#fff" stroke="#181818" stroke-width="0.8"/><circle cx="42.91" cy="333.65" r="1.72" fill="#fff" stroke="#181818" stroke-width="0.8"/><circle cx="43.95" cy="333.94" r="1.72" fill="#fff" stroke="#181818" stroke-width="0.8"/><circle cx="45.07" cy="333.56" r="1.72" fill="#fff" stroke="#181818" stroke-width="0.8"/><circle cx="46.2" cy="333.52" r="1.72" fill="#fff" stroke="#181818" stroke-width="0.8"/><circle cx="47.24" cy="334.43" r="1.72" fill="#fff" stroke="#181818" stroke-width="0.8"/><circle cx="48.28" cy="334.51" r="1.72" fill="#fff" stroke="#181818" stroke-width="0.8"/><circle cx="49.32" cy="333.18" r="1.72" fill="#fff" stroke="#181818" stroke-width="0.8"/><circle cx="50.28" cy="334.11" r="1.72" fill="#fff" stroke="#181818" stroke-width="0.8"/><circle cx="51.06" cy="334.15" r="1.72" fill="#fff" stroke="#181818" stroke-width="0.8"/><circle cx="51.79" cy="329.15" r="1.72" fill="#fff" stroke="#181818" stroke-width="0.8"/><circle cx="51.61" cy="323.76" r="1.72" fill="#fff" stroke="#181818" stroke-width="0.8"/><circle cx="51.74" cy="318.37" r="1.72" fill="#fff" stroke="#181818" stroke-width="0.8"/><circle cx="51.61" cy="312.99" r="1.72" fill="#fff" stroke="#181818" stroke-width="0.8"/><circle cx="51.67" cy="307.6" r="1.72" fill="#fff" stroke="#181818" stroke-width="0.8"/><circle cx="51.5" cy="302.21" r="1.72" fill="#fff" stroke="#181818" stroke-width="0.8"/><circle cx="51.67" cy="296.83" r="1.72" fill="#fff" stroke="#181818" stroke-width="0.8"/><circle cx="51.75" cy="291.44" r="1.72" fill="#fff" stroke="#181818" stroke-width="0.8"/><circle cx="51.63" cy="286.05" r="1.72" fill="#fff" stroke="#181818" stroke-width="0.8"/><circle cx="51.7" cy="280.67" r="1.72" fill="#fff" stroke="#181818" stroke-width="0.8"/><circle cx="51.68" cy="275.28" r="1.72" fill="#fff" stroke="#181818" stroke-width="0.8"/><circle cx="51.47" cy="269.89" r="1.72" fill="#fff" stroke="#181818" stroke-width="0.8"/><circle cx="51.71" cy="264.51" r="1.72" fill="#fff" stroke="#181818" stroke-width="0.8"/><circle cx="51.65" cy="259.12" r="1.72" fill="#fff" stroke="#181818" stroke-width="0.8"/><circle cx="51.55" cy="253.73" r="1.72" fill="#fff" stroke="#181818" stroke-width="0.8"/><circle cx="51.46" cy="248.35" r="1.72" fill="#fff" stroke="#181818" stroke-width="0.8"/><circle cx="51.75" cy="242.96" r="1.72" fill="#fff" stroke="#181818" stroke-width="0.8"/><circle cx="51.61" cy="237.57" r="1.72" fill="#fff" stroke="#181818" stroke-width="0.8"/><circle cx="51.8" cy="199.87" r="1.72" fill="#fff" stroke="#181818" stroke-width="0.8"/><circle cx="51.87" cy="202.56" r="1.72" fill="#fff" stroke="#181818" stroke-width="0.8"/><circle cx="51.8" cy="205.25" r="1.72" fill="#fff" stroke="#181818" stroke-width="0.8"/><circle cx="51.89" cy="207.95" r="1.72" fill="#fff" stroke="#181818" stroke-width="0.8"/><circle cx="51.66" cy="210.64" r="1.72" fill="#fff" stroke="#181818" stroke-width="0.8"/><circle cx="51.84" cy="213.33" r="1.72" fill="#fff" stroke="#181818" stroke-width="0.8"/><circle cx="51.68" cy="216.03" r="1.72" fill="#fff" stroke="#181818" stroke-width="0.8"/><circle cx="51.9" cy="218.72" r="1.72" fill="#fff" stroke="#181818" stroke-width="0.8"/><circle cx="51.87" cy="221.41" r="1.72" fill="#fff" stroke="#181818" stroke-width="0.8"/><circle cx="51.53" cy="224.11" r="1.72" fill="#fff" stroke="#181818" stroke-width="0.8"/><circle cx="51.55" cy="226.8" r="1.72" fill="#fff" stroke="#181818" stroke-width="0.8"/><circle cx="51.59" cy="229.49" r="1.72" fill="#fff" stroke="#181818" stroke-width="0.8"/><circle cx="51.91" cy="232.19" r="1.72" fill="#fff" stroke="#181818" stroke-width="0.8"/><circle cx="51.74" cy="228.72" r="1.72" fill="#fff" stroke="#181818" stroke-width="0.8"/><circle cx="51.64" cy="229.77" r="1.72" fill="#fff" stroke="#181818" stroke-width="0.8"/><circle cx="51.71" cy="231.14" r="1.72" fill="#fff" stroke="#181818" stroke-width="0.8"/><circle cx="51.86" cy="229.09" r="1.72" fill="#fff" stroke="#181818" stroke-width="0.8"/><circle cx="52.11" cy="228.24" r="1.72" fill="#fff" stroke="#181818" stroke-width="0.8"/><circle cx="52.13" cy="226.71" r="1.72" fill="#fff" stroke="#181818" stroke-width="0.8"/><circle cx="52.18" cy="228.33" r="1.72" fill="#fff" stroke="#181818" stroke-width="0.8"/><circle cx="51.53" cy="226.67" r="1.72" fill="#fff" stroke="#181818" stroke-width="0.8"/><circle cx="52.16" cy="226.29" r="1.72" fill="#fff" stroke="#181818" stroke-width="0.8"/><circle cx="52.27" cy="233.07" r="1.72" fill="#fff" stroke="#181818" stroke-width="0.8"/><circle cx="53.14" cy="235.21" r="1.72" fill="#fff" stroke="#181818" stroke-width="0.8"/><circle cx="54.01" cy="236.92" r="1.72" fill="#fff" stroke="#181818" stroke-width="0.8"/><circle cx="54.87" cy="238.31" r="1.72" fill="#fff" stroke="#181818" stroke-width="0.8"/><circle cx="55.74" cy="243.33" r="1.72" fill="#fff" stroke="#181818" stroke-width="0.8"/><circle cx="56.61" cy="245.49" r="1.72" fill="#fff" stroke="#181818" stroke-width="0.8"/><circle cx="57.47" cy="245.88" r="1.72" fill="#fff" stroke="#181818" stroke-width="0.8"/><circle cx="58.34" cy="249.23" r="1.72" fill="#fff" stroke="#181818" stroke-width="0.8"/><circle cx="59.21" cy="251.82" r="1.72" fill="#fff" stroke="#181818" stroke-width="0.8"/><circle cx="60.08" cy="254.46" r="1.72" fill="#fff" stroke="#181818" stroke-width="0.8"/><circle cx="60.94" cy="256.28" r="1.72" fill="#fff" stroke="#181818" stroke-width="0.8"/><circle cx="63.37" cy="263.14" r="1.72" fill="#fff" stroke="#181818" stroke-width="0.8"/><circle cx="65.8" cy="266.92" r="1.72" fill="#fff" stroke="#181818" stroke-width="0.8"/><circle cx="68.23" cy="271.46" r="1.72" fill="#fff" stroke="#181818" stroke-width="0.8"/><circle cx="70.65" cy="276.19" r="1.72" fill="#fff" stroke="#181818" stroke-width="0.8"/><circle cx="73.08" cy="282.27" r="1.72" fill="#fff" stroke="#181818" stroke-width="0.8"/><circle cx="75.51" cy="282.73" r="1.72" fill="#fff" stroke="#181818" stroke-width="0.8"/><circle cx="77.94" cy="286.94" r="1.72" fill="#fff" stroke="#181818" stroke-width="0.8"/><circle cx="80.37" cy="288.89" r="1.72" fill="#fff" stroke="#181818" stroke-width="0.8"/><circle cx="82.79" cy="292.7" r="1.72" fill="#fff" stroke="#181818" stroke-width="0.8"/><circle cx="85.22" cy="296.62" r="1.72" fill="#fff" stroke="#181818" stroke-width="0.8"/><circle cx="87.65" cy="296.32" r="1.72" fill="#fff" stroke="#181818" stroke-width="0.8"/><circle cx="90.08" cy="299.07" r="1.72" fill="#fff" stroke="#181818" stroke-width="0.8"/><circle cx="92.51" cy="302.29" r="1.72" fill="#fff" stroke="#181818" stroke-width="0.8"/><circle cx="94.93" cy="303.17" r="1.72" fill="#fff" stroke="#181818" stroke-width="0.8"/><circle cx="97.36" cy="305.66" r="1.72" fill="#fff" stroke="#181818" stroke-width="0.8"/><circle cx="99.79" cy="306.07" r="1.72" fill="#fff" stroke="#181818" stroke-width="0.8"/><circle cx="102.22" cy="308.03" r="1.72" fill="#fff" stroke="#181818" stroke-width="0.8"/><circle cx="104.64" cy="309.32" r="1.72" fill="#fff" stroke="#181818" stroke-width="0.8"/><circle cx="107.07" cy="311.02" r="1.72" fill="#fff" stroke="#181818" stroke-width="0.8"/><circle cx="109.5" cy="313.35" r="1.72" fill="#fff" stroke="#181818" stroke-width="0.8"/><circle cx="111.93" cy="312.6" r="1.72" fill="#fff" stroke="#181818" stroke-width="0.8"/><circle cx="114.36" cy="314.11" r="1.72" fill="#fff" stroke="#181818" stroke-width="0.8"/><circle cx="119.56" cy="315.86" r="1.72" fill="#fff" stroke="#181818" stroke-width="0.8"/><circle cx="124.76" cy="317.1" r="1.72" fill="#fff" stroke="#181818" stroke-width="0.8"/><circle cx="129.96" cy="319.6" r="1.72" fill="#fff" stroke="#181818" stroke-width="0.8"/><circle cx="135.17" cy="318.21" r="1.72" fill="#fff" stroke="#181818" stroke-width="0.8"/><circle cx="140.37" cy="321.68" r="1.72" fill="#fff" stroke="#181818" stroke-width="0.8"/><circle cx="145.57" cy="322.79" r="1.72" fill="#fff" stroke="#181818" stroke-width="0.8"/><circle cx="150.78" cy="322.09" r="1.72" fill="#fff" stroke="#181818" stroke-width="0.8"/><circle cx="155.98" cy="324.85" r="1.72" fill="#fff" stroke="#181818" stroke-width="0.8"/><circle cx="161.18" cy="324.29" r="1.72" fill="#fff" stroke="#181818" stroke-width="0.8"/><circle cx="166.38" cy="325.66" r="1.72" fill="#fff" stroke="#181818" stroke-width="0.8"/><circle cx="171.59" cy="325.84" r="1.72" fill="#fff" stroke="#181818" stroke-width="0.8"/><circle cx="176.79" cy="327.24" r="1.72" fill="#fff" stroke="#181818" stroke-width="0.8"/><circle cx="181.99" cy="327.56" r="1.72" fill="#fff" stroke="#181818" stroke-width="0.8"/><circle cx="187.19" cy="327.4" r="1.72" fill="#fff" stroke="#181818" stroke-width="0.8"/><circle cx="192.4" cy="326.8" r="1.72" fill="#fff" stroke="#181818" stroke-width="0.8"/><circle cx="197.6" cy="327.21" r="1.72" fill="#fff" stroke="#181818" stroke-width="0.8"/><circle cx="202.8" cy="328.06" r="1.72" fill="#fff" stroke="#181818" stroke-width="0.8"/><circle cx="208" cy="328.49" r="1.72" fill="#fff" stroke="#181818" stroke-width="0.8"/><circle cx="213.21" cy="325.46" r="1.72" fill="#fff" stroke="#181818" stroke-width="0.8"/><circle cx="218.41" cy="329.36" r="1.72" fill="#fff" stroke="#181818" stroke-width="0.8"/><circle cx="219.8" cy="327.44" r="1.72" fill="#fff" stroke="#181818" stroke-width="0.8"/><path d="M51.58 334.53 L219.97 334.53" stroke="#ff00ff" stroke-width="1.2" fill="none"/><path d="M51.58 315.01 L51.71 315.03 L51.94 315.06 L52.24 315.11 L52.6 315.16 L53.01 315.22 L53.46 315.29 L53.95 315.36 L54.48 315.44 L55.04 315.52 L55.63 315.61 L56.25 315.7 L56.9 315.79 L57.58 315.89 L58.29 315.99 L59.02 316.09 L59.78 316.2 L60.56 316.31 L61.36 316.42 L62.19 316.54 L63.04 316.65 L63.91 316.77 L64.8 316.89 L65.71 317.02 L66.64 317.14 L67.59 317.27 L68.56 317.4 L69.55 317.53 L70.56 317.66 L71.58 317.79 L72.63 317.92 L73.69 318.06 L74.77 318.2 L75.86 318.33 L76.97 318.47 L78.1 318.61 L79.25 318.75 L80.41 318.89 L81.59 319.03 L82.78 319.17 L83.99 319.31 L85.21 319.46 L86.45 319.6 L87.7 319.74 L88.97 319.88 L90.25 320.03 L91.54 320.17 L92.85 320.32 L94.18 320.46 L95.52 320.6 L96.87 320.75 L98.23 320.89 L99.61 321.04 L101 321.18 L102.41 321.32 L103.83 321.47 L105.26 321.61 L106.7 321.75 L108.16 321.89 L109.63 322.04 L111.11 322.18 L112.61 322.32 L114.12 322.46 L115.63 322.6 L117.17 322.74 L118.71 322.88 L120.26 323.02 L121.83 323.16 L123.41 323.29 L125 323.43 L126.6 323.57 L128.21 323.7 L129.84 323.84 L131.48 323.97 L133.12 324.1 L134.78 324.23 L136.45 324.37 L138.13 324.5 L139.82 324.63 L141.53 324.75 L143.24 324.88 L144.96 325.01 L146.7 325.14 L148.44 325.26 L150.2 325.39 L151.97 325.51 L153.74 325.63 L155.53 325.75 L157.33 325.87 L159.13 325.99 L160.95 326.11 L162.78 326.23 L164.62 326.35 L166.47 326.46 L168.32 326.58 L170.19 326.69 L172.07 326.8 L173.96 326.91 L175.85 327.02 L177.76 327.13 L179.68 327.24 L181.6 327.35 L183.54 327.45 L185.49 327.56 L187.44 327.66 L189.41 327.77 L191.38 327.87 L193.36 327.97 L195.35 328.07 L197.36 328.17 L199.37 328.26 L201.39 328.36 L203.42 328.46 L205.45 328.55 L207.5 328.64 L209.56 328.74 L211.62 328.83 L213.7 328.92 L215.78 329.01 L217.87 329.1 L219.97 329.18" fill="none" stroke="#0a8a0a" stroke-width="1.1" stroke-linejoin="round"/><path d="M51.58 249.69 L51.71 250.11 L51.94 250.88 L52.24 251.86 L52.6 253 L53.01 254.28 L53.46 255.67 L53.95 257.16 L54.48 258.72 L55.04 260.36 L55.63 262.04 L56.25 263.77 L56.9 265.54 L57.58 267.34 L58.29 269.15 L59.02 270.99 L59.78 272.82 L60.56 274.67 L61.36 276.51 L62.19 278.34 L63.04 280.16 L63.91 281.97 L64.8 283.75 L65.71 285.52 L66.64 287.26 L67.59 288.97 L68.56 290.66 L69.55 292.31 L70.56 293.93 L71.58 295.52 L72.63 297.07 L73.69 298.58 L74.77 300.05 L75.86 301.49 L76.97 302.89 L78.1 304.24 L79.25 305.56 L80.41 306.84 L81.59 308.07 L82.78 309.27 L83.99 310.43 L85.21 311.55 L86.45 312.63 L87.7 313.67 L88.97 314.67 L90.25 315.63 L91.54 316.56 L92.85 317.45 L94.18 318.31 L95.52 319.13 L96.87 319.92 L98.23 320.67 L99.61 321.39 L101 322.09 L102.41 322.75 L103.83 323.38 L105.26 323.98 L106.7 324.56 L108.16 325.11 L109.63 325.63 L111.11 326.13 L112.61 326.6 L114.12 327.05 L115.63 327.48 L117.17 327.89 L118.71 328.27 L120.26 328.64 L121.83 328.99 L123.41 329.32 L125 329.63 L126.6 329.93 L128.21 330.21 L129.84 330.47 L131.48 330.72 L133.12 330.96 L134.78 331.18 L136.45 331.39 L138.13 331.59 L139.82 331.78 L141.53 331.95 L143.24 332.12 L144.96 332.28 L146.7 332.42 L148.44 332.56 L150.2 332.69 L151.97 332.81 L153.74 332.93 L155.53 333.04 L157.33 333.14 L159.13 333.23 L160.95 333.32 L162.78 333.4 L164.62 333.48 L166.47 333.55 L168.32 333.62 L170.19 333.69 L172.07 333.75 L173.96 333.8 L175.85 333.85 L177.76 333.9 L179.68 333.95 L181.6 333.99 L183.54 334.03 L185.49 334.07 L187.44 334.1 L189.41 334.13 L191.38 334.16 L193.36 334.19 L195.35 334.21 L197.36 334.24 L199.37 334.26 L201.39 334.28 L203.42 334.3 L205.45 334.32 L207.5 334.33 L209.56 334.35 L211.62 334.36 L213.7 334.38 L215.78 334.39 L217.87 334.4 L219.97 334.41" fill="none" stroke="#0000ff" stroke-width="1.1" stroke-linejoin="round"/><path d="M42.91 334.53 L51.58 334.53 L51.62 201.21 L51.58 230.17 L51.71 230.61 L51.94 231.41 L52.24 232.43 L52.6 233.63 L53.01 234.97 L53.46 236.43 L53.95 237.99 L54.48 239.63 L55.04 241.34 L55.63 243.11 L56.25 244.94 L56.9 246.8 L57.58 248.69 L58.29 250.61 L59.02 252.54 L59.78 254.49 L60.56 256.44 L61.36 258.39 L62.19 260.34 L63.04 262.28 L63.91 264.21 L64.8 266.11 L65.71 268 L66.64 269.87 L67.59 271.71 L68.56 273.52 L69.55 275.31 L70.56 277.06 L71.58 278.78 L72.63 280.46 L73.69 282.11 L74.77 283.72 L75.86 285.29 L76.97 286.82 L78.1 288.32 L79.25 289.78 L80.41 291.19 L81.59 292.57 L82.78 293.91 L83.99 295.21 L85.21 296.47 L86.45 297.69 L87.7 298.87 L88.97 300.02 L90.25 301.13 L91.54 302.2 L92.85 303.23 L94.18 304.23 L95.52 305.2 L96.87 306.13 L98.23 307.03 L99.61 307.9 L101 308.73 L102.41 309.54 L103.83 310.31 L105.26 311.06 L106.7 311.78 L108.16 312.47 L109.63 313.13 L111.11 313.77 L112.61 314.39 L114.12 314.98 L115.63 315.55 L117.17 316.09 L118.71 316.62 L120.26 317.13 L121.83 317.61 L123.41 318.08 L125 318.53 L126.6 318.96 L128.21 319.37 L129.84 319.77 L131.48 320.16 L133.12 320.53 L134.78 320.88 L136.45 321.22 L138.13 321.55 L139.82 321.87 L141.53 322.17 L143.24 322.47 L144.96 322.75 L146.7 323.02 L148.44 323.29 L150.2 323.54 L151.97 323.79 L153.74 324.03 L155.53 324.25 L157.33 324.48 L159.13 324.69 L160.95 324.9 L162.78 325.1 L164.62 325.29 L166.47 325.48 L168.32 325.66 L170.19 325.84 L172.07 326.01 L173.96 326.18 L175.85 326.34 L177.76 326.5 L179.68 326.65 L181.6 326.8 L183.54 326.95 L185.49 327.09 L187.44 327.23 L189.41 327.36 L191.38 327.5 L193.36 327.62 L195.35 327.75 L197.36 327.87 L199.37 327.99 L201.39 328.11 L203.42 328.22 L205.45 328.34 L207.5 328.45 L209.56 328.55 L211.62 328.66 L213.7 328.76 L215.78 328.86 L217.87 328.96 L219.97 329.06" fill="none" stroke="#ff0000" stroke-width="1.15" stroke-linejoin="round"/><rect x="29.9" y="186.4" width="195.1" height="161.6" fill="none" stroke="#000" stroke-width="2.1"/><line x1="51.58" y1="348" x2="51.58" y2="351.3" stroke="#000" stroke-width="1.5"/><line x1="94.93" y1="348" x2="94.93" y2="351.3" stroke="#000" stroke-width="1.5"/><line x1="138.29" y1="348" x2="138.29" y2="351.3" stroke="#000" stroke-width="1.5"/><line x1="181.64" y1="348" x2="181.64" y2="351.3" stroke="#000" stroke-width="1.5"/><line x1="225" y1="348" x2="225" y2="351.3" stroke="#000" stroke-width="1.5"/><line x1="29.9" y1="348" x2="29.9" y2="349.7" stroke="#000" stroke-width="1.3"/><line x1="73.26" y1="348" x2="73.26" y2="349.7" stroke="#000" stroke-width="1.3"/><line x1="116.61" y1="348" x2="116.61" y2="349.7" stroke="#000" stroke-width="1.3"/><line x1="159.97" y1="348" x2="159.97" y2="349.7" stroke="#000" stroke-width="1.3"/><line x1="203.32" y1="348" x2="203.32" y2="349.7" stroke="#000" stroke-width="1.3"/><line x1="26.6" y1="334.53" x2="29.9" y2="334.53" stroke="#000" stroke-width="1.5"/><line x1="26.6" y1="307.6" x2="29.9" y2="307.6" stroke="#000" stroke-width="1.5"/><line x1="26.6" y1="280.67" x2="29.9" y2="280.67" stroke="#000" stroke-width="1.5"/><line x1="26.6" y1="253.73" x2="29.9" y2="253.73" stroke="#000" stroke-width="1.5"/><line x1="26.6" y1="226.8" x2="29.9" y2="226.8" stroke="#000" stroke-width="1.5"/><line x1="26.6" y1="199.87" x2="29.9" y2="199.87" stroke="#000" stroke-width="1.5"/><line x1="28.2" y1="348" x2="29.9" y2="348" stroke="#000" stroke-width="1.3"/><line x1="28.2" y1="321.07" x2="29.9" y2="321.07" stroke="#000" stroke-width="1.3"/><line x1="28.2" y1="294.13" x2="29.9" y2="294.13" stroke="#000" stroke-width="1.3"/><line x1="28.2" y1="267.2" x2="29.9" y2="267.2" stroke="#000" stroke-width="1.3"/><line x1="28.2" y1="240.27" x2="29.9" y2="240.27" stroke="#000" stroke-width="1.3"/><line x1="28.2" y1="213.33" x2="29.9" y2="213.33" stroke="#000" stroke-width="1.3"/><line x1="28.2" y1="186.4" x2="29.9" y2="186.4" stroke="#000" stroke-width="1.3"/><text transform="translate(51.58 359.5) scale(1.05 0.86)" font-size="7.3" text-anchor="middle" stroke="#000" stroke-width="0.12">0</text><text transform="translate(94.93 359.5) scale(1.05 0.86)" font-size="7.3" text-anchor="middle" stroke="#000" stroke-width="0.12">500</text><text transform="translate(138.29 359.5) scale(1.05 0.86)" font-size="7.3" text-anchor="middle" stroke="#000" stroke-width="0.12">1000</text><text transform="translate(181.64 359.5) scale(1.05 0.86)" font-size="7.3" text-anchor="middle" stroke="#000" stroke-width="0.12">1500</text><text transform="translate(225 359.5) scale(1.05 0.86)" font-size="7.3" text-anchor="middle" stroke="#000" stroke-width="0.12">2000</text><text transform="translate(25.5 336.65) scale(1.05 0.86)" font-size="7.3" text-anchor="end" stroke="#000" stroke-width="0.12">0.0</text><text transform="translate(25.5 309.72) scale(1.05 0.86)" font-size="7.3" text-anchor="end" stroke="#000" stroke-width="0.12">0.2</text><text transform="translate(25.5 282.78) scale(1.05 0.86)" font-size="7.3" text-anchor="end" stroke="#000" stroke-width="0.12">0.4</text><text transform="translate(25.5 255.85) scale(1.05 0.86)" font-size="7.3" text-anchor="end" stroke="#000" stroke-width="0.12">0.6</text><text transform="translate(25.5 228.92) scale(1.05 0.86)" font-size="7.3" text-anchor="end" stroke="#000" stroke-width="0.12">0.8</text><text transform="translate(25.5 201.98) scale(1.05 0.86)" font-size="7.3" text-anchor="end" stroke="#000" stroke-width="0.12">1.0</text><text x="127.45" y="370.6" font-size="8.8" text-anchor="middle" stroke="#000" stroke-width="0.15">Delay time (ps)</text><text transform="translate(12.4 267.2) rotate(-90)" font-size="8.95" text-anchor="middle" stroke="#000" stroke-width="0.15">Intensity (arb. units)</text><text transform="translate(6.4 192.4) scale(0.97 0.92)" font-size="8.6" stroke="#000" stroke-width="0.22">(c)</text><circle cx="156.9" cy="193.9" r="1.35" fill="#fff" stroke="#202020" stroke-width="0.65"/><text transform="translate(167.6 196.31) scale(1.01 0.93)" font-size="7.3" stroke="#000" stroke-width="0.22">250+800 nm</text><line x1="148.7" y1="203.6" x2="164.9" y2="203.6" stroke="#ff00ff" stroke-width="1.2"/><text transform="translate(167.6 206.01) scale(1.01 0.93)" font-size="7.3" fill="#ff00ff" stroke="#ff00ff" stroke-width="0.22">τ<tspan font-size="5.11" dy="1.82">1</tspan><tspan dy="-1.82">=224±11.22 fs</tspan></text><line x1="148.7" y1="214.5" x2="164.9" y2="214.5" stroke="#0000ff" stroke-width="1.2"/><text transform="translate(167.6 216.91) scale(1.01 0.93)" font-size="7.3" fill="#0000ff" stroke="#0000ff" stroke-width="0.22">τ<tspan font-size="5.11" dy="1.82">2</tspan><tspan dy="-1.82">=297±14.85 ps</tspan></text><line x1="148.7" y1="225.8" x2="164.9" y2="225.8" stroke="#0a8a0a" stroke-width="1.2"/><text transform="translate(167.6 228.21) scale(1.01 0.93)" font-size="7.3" fill="#0a8a0a" stroke="#0a8a0a" stroke-width="0.22">τ<tspan font-size="5.11" dy="1.82">3</tspan><tspan dy="-1.82">=1500±75.00 ps</tspan></text><line x1="148.7" y1="237.1" x2="164.9" y2="237.1" stroke="#ff0000" stroke-width="1.2"/><text transform="translate(167.6 239.51) scale(1.01 0.93)" font-size="7.3" fill="#ff0000" stroke="#ff0000" stroke-width="0.22">Sum fit</text></g>
<g><line x1="358.03" y1="187.6" x2="358.03" y2="347.7" stroke="#e6e6e6" stroke-width="0.6"/><line x1="402.9" y1="187.6" x2="402.9" y2="347.7" stroke="#e6e6e6" stroke-width="0.6"/><line x1="447.77" y1="187.6" x2="447.77" y2="347.7" stroke="#e6e6e6" stroke-width="0.6"/><line x1="492.63" y1="187.6" x2="492.63" y2="347.7" stroke="#e6e6e6" stroke-width="0.6"/><line x1="335.6" y1="334.36" x2="537.5" y2="334.36" stroke="#e6e6e6" stroke-width="0.6"/><line x1="335.6" y1="307.67" x2="537.5" y2="307.67" stroke="#e6e6e6" stroke-width="0.6"/><line x1="335.6" y1="280.99" x2="537.5" y2="280.99" stroke="#e6e6e6" stroke-width="0.6"/><line x1="335.6" y1="254.31" x2="537.5" y2="254.31" stroke="#e6e6e6" stroke-width="0.6"/><line x1="335.6" y1="227.62" x2="537.5" y2="227.62" stroke="#e6e6e6" stroke-width="0.6"/><line x1="335.6" y1="200.94" x2="537.5" y2="200.94" stroke="#e6e6e6" stroke-width="0.6"/><circle cx="347.71" cy="333.98" r="1.72" fill="#fff" stroke="#181818" stroke-width="0.8"/><circle cx="349.06" cy="334.19" r="1.72" fill="#fff" stroke="#181818" stroke-width="0.8"/><circle cx="350.14" cy="333.72" r="1.72" fill="#fff" stroke="#181818" stroke-width="0.8"/><circle cx="351.3" cy="334.11" r="1.72" fill="#fff" stroke="#181818" stroke-width="0.8"/><circle cx="352.47" cy="334.25" r="1.72" fill="#fff" stroke="#181818" stroke-width="0.8"/><circle cx="353.55" cy="333.72" r="1.72" fill="#fff" stroke="#181818" stroke-width="0.8"/><circle cx="354.62" cy="332.89" r="1.72" fill="#fff" stroke="#181818" stroke-width="0.8"/><circle cx="355.7" cy="333.08" r="1.72" fill="#fff" stroke="#181818" stroke-width="0.8"/><circle cx="356.69" cy="333.13" r="1.72" fill="#fff" stroke="#181818" stroke-width="0.8"/><circle cx="357.49" cy="334" r="1.72" fill="#fff" stroke="#181818" stroke-width="0.8"/><circle cx="358.09" cy="329.69" r="1.72" fill="#fff" stroke="#181818" stroke-width="0.8"/><circle cx="358" cy="325.02" r="1.72" fill="#fff" stroke="#181818" stroke-width="0.8"/><circle cx="357.96" cy="320.35" r="1.72" fill="#fff" stroke="#181818" stroke-width="0.8"/><circle cx="357.94" cy="315.68" r="1.72" fill="#fff" stroke="#181818" stroke-width="0.8"/><circle cx="357.98" cy="311.01" r="1.72" fill="#fff" stroke="#181818" stroke-width="0.8"/><circle cx="358.23" cy="306.34" r="1.72" fill="#fff" stroke="#181818" stroke-width="0.8"/><circle cx="358.2" cy="301.67" r="1.72" fill="#fff" stroke="#181818" stroke-width="0.8"/><circle cx="358.19" cy="297" r="1.72" fill="#fff" stroke="#181818" stroke-width="0.8"/><circle cx="358.19" cy="292.33" r="1.72" fill="#fff" stroke="#181818" stroke-width="0.8"/><circle cx="357.97" cy="287.66" r="1.72" fill="#fff" stroke="#181818" stroke-width="0.8"/><circle cx="358.01" cy="282.99" r="1.72" fill="#fff" stroke="#181818" stroke-width="0.8"/><circle cx="358.12" cy="278.32" r="1.72" fill="#fff" stroke="#181818" stroke-width="0.8"/><circle cx="358.27" cy="200.94" r="1.72" fill="#fff" stroke="#181818" stroke-width="0.8"/><circle cx="358.33" cy="204.28" r="1.72" fill="#fff" stroke="#181818" stroke-width="0.8"/><circle cx="358.34" cy="207.61" r="1.72" fill="#fff" stroke="#181818" stroke-width="0.8"/><circle cx="357.98" cy="210.95" r="1.72" fill="#fff" stroke="#181818" stroke-width="0.8"/><circle cx="358.22" cy="214.28" r="1.72" fill="#fff" stroke="#181818" stroke-width="0.8"/><circle cx="358.24" cy="217.62" r="1.72" fill="#fff" stroke="#181818" stroke-width="0.8"/><circle cx="358.17" cy="220.95" r="1.72" fill="#fff" stroke="#181818" stroke-width="0.8"/><circle cx="358.02" cy="224.29" r="1.72" fill="#fff" stroke="#181818" stroke-width="0.8"/><circle cx="358.16" cy="227.62" r="1.72" fill="#fff" stroke="#181818" stroke-width="0.8"/><circle cx="357.98" cy="230.96" r="1.72" fill="#fff" stroke="#181818" stroke-width="0.8"/><circle cx="358.36" cy="234.3" r="1.72" fill="#fff" stroke="#181818" stroke-width="0.8"/><circle cx="358.33" cy="237.63" r="1.72" fill="#fff" stroke="#181818" stroke-width="0.8"/><circle cx="358.19" cy="240.97" r="1.72" fill="#fff" stroke="#181818" stroke-width="0.8"/><circle cx="358.08" cy="244.3" r="1.72" fill="#fff" stroke="#181818" stroke-width="0.8"/><circle cx="358.35" cy="247.64" r="1.72" fill="#fff" stroke="#181818" stroke-width="0.8"/><circle cx="358.2" cy="250.97" r="1.72" fill="#fff" stroke="#181818" stroke-width="0.8"/><circle cx="358.34" cy="254.31" r="1.72" fill="#fff" stroke="#181818" stroke-width="0.8"/><circle cx="358.32" cy="257.64" r="1.72" fill="#fff" stroke="#181818" stroke-width="0.8"/><circle cx="358.17" cy="260.98" r="1.72" fill="#fff" stroke="#181818" stroke-width="0.8"/><circle cx="358.13" cy="264.31" r="1.72" fill="#fff" stroke="#181818" stroke-width="0.8"/><circle cx="358.21" cy="267.65" r="1.72" fill="#fff" stroke="#181818" stroke-width="0.8"/><circle cx="358.14" cy="270.99" r="1.72" fill="#fff" stroke="#181818" stroke-width="0.8"/><circle cx="358.02" cy="274.32" r="1.72" fill="#fff" stroke="#181818" stroke-width="0.8"/><circle cx="358.1" cy="271.28" r="1.72" fill="#fff" stroke="#181818" stroke-width="0.8"/><circle cx="357.89" cy="277.92" r="1.72" fill="#fff" stroke="#181818" stroke-width="0.8"/><circle cx="358.36" cy="275.89" r="1.72" fill="#fff" stroke="#181818" stroke-width="0.8"/><circle cx="358.29" cy="274.24" r="1.72" fill="#fff" stroke="#181818" stroke-width="0.8"/><circle cx="358.13" cy="269.67" r="1.72" fill="#fff" stroke="#181818" stroke-width="0.8"/><circle cx="358.01" cy="274.74" r="1.72" fill="#fff" stroke="#181818" stroke-width="0.8"/><circle cx="358.02" cy="272.84" r="1.72" fill="#fff" stroke="#181818" stroke-width="0.8"/><circle cx="358.08" cy="275.24" r="1.72" fill="#fff" stroke="#181818" stroke-width="0.8"/><circle cx="358.46" cy="275.54" r="1.72" fill="#fff" stroke="#181818" stroke-width="0.8"/><circle cx="358.75" cy="278.75" r="1.72" fill="#fff" stroke="#181818" stroke-width="0.8"/><circle cx="359.47" cy="281.47" r="1.72" fill="#fff" stroke="#181818" stroke-width="0.8"/><circle cx="360.19" cy="284.08" r="1.72" fill="#fff" stroke="#181818" stroke-width="0.8"/><circle cx="360.9" cy="287.09" r="1.72" fill="#fff" stroke="#181818" stroke-width="0.8"/><circle cx="361.62" cy="289.86" r="1.72" fill="#fff" stroke="#181818" stroke-width="0.8"/><circle cx="362.34" cy="291.69" r="1.72" fill="#fff" stroke="#181818" stroke-width="0.8"/><circle cx="363.06" cy="295.33" r="1.72" fill="#fff" stroke="#181818" stroke-width="0.8"/><circle cx="363.78" cy="297.58" r="1.72" fill="#fff" stroke="#181818" stroke-width="0.8"/><circle cx="364.49" cy="299.62" r="1.72" fill="#fff" stroke="#181818" stroke-width="0.8"/><circle cx="365.21" cy="301.18" r="1.72" fill="#fff" stroke="#181818" stroke-width="0.8"/><circle cx="365.93" cy="303.5" r="1.72" fill="#fff" stroke="#181818" stroke-width="0.8"/><circle cx="366.65" cy="305.07" r="1.72" fill="#fff" stroke="#181818" stroke-width="0.8"/><circle cx="367.37" cy="307.13" r="1.72" fill="#fff" stroke="#181818" stroke-width="0.8"/><circle cx="368.26" cy="309.75" r="1.72" fill="#fff" stroke="#181818" stroke-width="0.8"/><circle cx="369.16" cy="309.61" r="1.72" fill="#fff" stroke="#181818" stroke-width="0.8"/><circle cx="370.06" cy="312.32" r="1.72" fill="#fff" stroke="#181818" stroke-width="0.8"/><circle cx="370.95" cy="313.48" r="1.72" fill="#fff" stroke="#181818" stroke-width="0.8"/><circle cx="371.85" cy="314.99" r="1.72" fill="#fff" stroke="#181818" stroke-width="0.8"/><circle cx="372.75" cy="316.58" r="1.72" fill="#fff" stroke="#181818" stroke-width="0.8"/><circle cx="373.65" cy="316.08" r="1.72" fill="#fff" stroke="#181818" stroke-width="0.8"/><circle cx="374.54" cy="318.43" r="1.72" fill="#fff" stroke="#181818" stroke-width="0.8"/><circle cx="375.44" cy="320.06" r="1.72" fill="#fff" stroke="#181818" stroke-width="0.8"/><circle cx="376.34" cy="319.75" r="1.72" fill="#fff" stroke="#181818" stroke-width="0.8"/><circle cx="377.24" cy="321.56" r="1.72" fill="#fff" stroke="#181818" stroke-width="0.8"/><circle cx="378.13" cy="321.91" r="1.72" fill="#fff" stroke="#181818" stroke-width="0.8"/><circle cx="379.03" cy="323.23" r="1.72" fill="#fff" stroke="#181818" stroke-width="0.8"/><circle cx="379.93" cy="323.29" r="1.72" fill="#fff" stroke="#181818" stroke-width="0.8"/><circle cx="380.83" cy="323.58" r="1.72" fill="#fff" stroke="#181818" stroke-width="0.8"/><circle cx="381.72" cy="324.35" r="1.72" fill="#fff" stroke="#181818" stroke-width="0.8"/><circle cx="382.62" cy="324.83" r="1.72" fill="#fff" stroke="#181818" stroke-width="0.8"/><circle cx="383.52" cy="325.25" r="1.72" fill="#fff" stroke="#181818" stroke-width="0.8"/><circle cx="384.41" cy="326.29" r="1.72" fill="#fff" stroke="#181818" stroke-width="0.8"/><circle cx="385.31" cy="326.43" r="1.72" fill="#fff" stroke="#181818" stroke-width="0.8"/><circle cx="386.21" cy="326.98" r="1.72" fill="#fff" stroke="#181818" stroke-width="0.8"/><circle cx="387.11" cy="326.89" r="1.72" fill="#fff" stroke="#181818" stroke-width="0.8"/><circle cx="388" cy="326.86" r="1.72" fill="#fff" stroke="#181818" stroke-width="0.8"/><circle cx="388.9" cy="328.28" r="1.72" fill="#fff" stroke="#181818" stroke-width="0.8"/><circle cx="389.8" cy="327.94" r="1.72" fill="#fff" stroke="#181818" stroke-width="0.8"/><circle cx="390.7" cy="327.31" r="1.72" fill="#fff" stroke="#181818" stroke-width="0.8"/><circle cx="391.59" cy="327.93" r="1.72" fill="#fff" stroke="#181818" stroke-width="0.8"/><circle cx="392.49" cy="329.34" r="1.72" fill="#fff" stroke="#181818" stroke-width="0.8"/><circle cx="393.39" cy="329.07" r="1.72" fill="#fff" stroke="#181818" stroke-width="0.8"/><circle cx="394.29" cy="329.26" r="1.72" fill="#fff" stroke="#181818" stroke-width="0.8"/><circle cx="395.18" cy="329.55" r="1.72" fill="#fff" stroke="#181818" stroke-width="0.8"/><circle cx="396.08" cy="329.39" r="1.72" fill="#fff" stroke="#181818" stroke-width="0.8"/><circle cx="401.28" cy="329.88" r="1.72" fill="#fff" stroke="#181818" stroke-width="0.8"/><circle cx="406.49" cy="331.02" r="1.72" fill="#fff" stroke="#181818" stroke-width="0.8"/><circle cx="411.69" cy="331.37" r="1.72" fill="#fff" stroke="#181818" stroke-width="0.8"/><circle cx="416.9" cy="332.17" r="1.72" fill="#fff" stroke="#181818" stroke-width="0.8"/><circle cx="422.1" cy="331.95" r="1.72" fill="#fff" stroke="#181818" stroke-width="0.8"/><circle cx="427.31" cy="331.87" r="1.72" fill="#fff" stroke="#181818" stroke-width="0.8"/><circle cx="432.51" cy="332.29" r="1.72" fill="#fff" stroke="#181818" stroke-width="0.8"/><circle cx="437.72" cy="333.31" r="1.72" fill="#fff" stroke="#181818" stroke-width="0.8"/><circle cx="442.92" cy="332.68" r="1.72" fill="#fff" stroke="#181818" stroke-width="0.8"/><circle cx="448.13" cy="333.94" r="1.72" fill="#fff" stroke="#181818" stroke-width="0.8"/><circle cx="453.33" cy="331.85" r="1.72" fill="#fff" stroke="#181818" stroke-width="0.8"/><circle cx="458.53" cy="333.17" r="1.72" fill="#fff" stroke="#181818" stroke-width="0.8"/><circle cx="463.74" cy="332.8" r="1.72" fill="#fff" stroke="#181818" stroke-width="0.8"/><circle cx="468.94" cy="333.05" r="1.72" fill="#fff" stroke="#181818" stroke-width="0.8"/><circle cx="474.15" cy="332.91" r="1.72" fill="#fff" stroke="#181818" stroke-width="0.8"/><circle cx="479.35" cy="333.41" r="1.72" fill="#fff" stroke="#181818" stroke-width="0.8"/><circle cx="484.56" cy="332.92" r="1.72" fill="#fff" stroke="#181818" stroke-width="0.8"/><circle cx="489.76" cy="332.4" r="1.72" fill="#fff" stroke="#181818" stroke-width="0.8"/><circle cx="494.97" cy="333.87" r="1.72" fill="#fff" stroke="#181818" stroke-width="0.8"/><circle cx="500.17" cy="333.41" r="1.72" fill="#fff" stroke="#181818" stroke-width="0.8"/><circle cx="505.38" cy="333.32" r="1.72" fill="#fff" stroke="#181818" stroke-width="0.8"/><circle cx="510.58" cy="333.37" r="1.72" fill="#fff" stroke="#181818" stroke-width="0.8"/><circle cx="515.78" cy="333" r="1.72" fill="#fff" stroke="#181818" stroke-width="0.8"/><circle cx="520.99" cy="333.34" r="1.72" fill="#fff" stroke="#181818" stroke-width="0.8"/><circle cx="526.19" cy="333.1" r="1.72" fill="#fff" stroke="#181818" stroke-width="0.8"/><circle cx="531.4" cy="333.31" r="1.72" fill="#fff" stroke="#181818" stroke-width="0.8"/><circle cx="532.12" cy="332.18" r="1.72" fill="#fff" stroke="#181818" stroke-width="0.8"/><path d="M358.03 334.36 L532.3 334.36" stroke="#ff00ff" stroke-width="1.2" fill="none"/><path d="M358.03 330.36 L358.17 330.36 L358.41 330.37 L358.72 330.39 L359.09 330.4 L359.52 330.42 L359.98 330.44 L360.49 330.46 L361.03 330.49 L361.61 330.51 L362.23 330.54 L362.87 330.57 L363.54 330.59 L364.25 330.62 L364.98 330.65 L365.73 330.69 L366.52 330.72 L367.33 330.75 L368.16 330.78 L369.01 330.82 L369.89 330.85 L370.79 330.89 L371.71 330.92 L372.66 330.96 L373.62 330.99 L374.6 331.03 L375.61 331.07 L376.63 331.11 L377.67 331.14 L378.74 331.18 L379.82 331.22 L380.91 331.26 L382.03 331.3 L383.16 331.33 L384.31 331.37 L385.48 331.41 L386.67 331.45 L387.87 331.49 L389.09 331.53 L390.32 331.57 L391.57 331.6 L392.84 331.64 L394.12 331.68 L395.41 331.72 L396.72 331.76 L398.05 331.8 L399.39 331.83 L400.75 331.87 L402.12 331.91 L403.5 331.95 L404.9 331.98 L406.32 332.02 L407.74 332.06 L409.18 332.09 L410.64 332.13 L412.11 332.17 L413.59 332.2 L415.08 332.24 L416.59 332.27 L418.11 332.31 L419.64 332.34 L421.19 332.38 L422.75 332.41 L424.32 332.45 L425.91 332.48 L427.5 332.51 L429.11 332.55 L430.73 332.58 L432.37 332.61 L434.01 332.64 L435.67 332.67 L437.34 332.7 L439.02 332.74 L440.72 332.77 L442.42 332.8 L444.14 332.83 L445.87 332.85 L447.6 332.88 L449.35 332.91 L451.12 332.94 L452.89 332.97 L454.67 332.99 L456.47 333.02 L458.28 333.05 L460.09 333.07 L461.92 333.1 L463.76 333.13 L465.61 333.15 L467.47 333.18 L469.34 333.2 L471.22 333.22 L473.11 333.25 L475.01 333.27 L476.93 333.29 L478.85 333.32 L480.78 333.34 L482.73 333.36 L484.68 333.38 L486.64 333.4 L488.62 333.42 L490.6 333.44 L492.59 333.46 L494.6 333.48 L496.61 333.5 L498.63 333.52 L500.66 333.54 L502.71 333.56 L504.76 333.58 L506.82 333.6 L508.89 333.61 L510.97 333.63 L513.06 333.65 L515.16 333.66 L517.27 333.68 L519.39 333.7 L521.52 333.71 L523.66 333.73 L525.8 333.74 L527.96 333.76 L530.12 333.77 L532.3 333.78" fill="none" stroke="#0a8a0a" stroke-width="1.1" stroke-linejoin="round"/><path d="M358.03 278.32 L358.17 279 L358.41 280.23 L358.72 281.77 L359.09 283.54 L359.52 285.47 L359.98 287.53 L360.49 289.66 L361.03 291.85 L361.61 294.06 L362.23 296.27 L362.87 298.47 L363.54 300.63 L364.25 302.74 L364.98 304.8 L365.73 306.79 L366.52 308.71 L367.33 310.55 L368.16 312.3 L369.01 313.97 L369.89 315.56 L370.79 317.05 L371.71 318.46 L372.66 319.78 L373.62 321.02 L374.6 322.18 L375.61 323.25 L376.63 324.25 L377.67 325.18 L378.74 326.03 L379.82 326.82 L380.91 327.55 L382.03 328.21 L383.16 328.82 L384.31 329.38 L385.48 329.89 L386.67 330.35 L387.87 330.77 L389.09 331.15 L390.32 331.49 L391.57 331.81 L392.84 332.09 L394.12 332.34 L395.41 332.57 L396.72 332.77 L398.05 332.95 L399.39 333.12 L400.75 333.26 L402.12 333.39 L403.5 333.51 L404.9 333.61 L406.32 333.7 L407.74 333.78 L409.18 333.85 L410.64 333.92 L412.11 333.97 L413.59 334.02 L415.08 334.07 L416.59 334.1 L418.11 334.14 L419.64 334.17 L421.19 334.19 L422.75 334.21 L424.32 334.23 L425.91 334.25 L427.5 334.27 L429.11 334.28 L430.73 334.29 L432.37 334.3 L434.01 334.31 L435.67 334.31 L437.34 334.32 L439.02 334.33 L440.72 334.33 L442.42 334.33 L444.14 334.34 L445.87 334.34 L447.6 334.34 L449.35 334.35 L451.12 334.35 L452.89 334.35 L454.67 334.35 L456.47 334.35 L458.28 334.35 L460.09 334.35 L461.92 334.35 L463.76 334.36 L465.61 334.36 L467.47 334.36 L469.34 334.36 L471.22 334.36 L473.11 334.36 L475.01 334.36 L476.93 334.36 L478.85 334.36 L480.78 334.36 L482.73 334.36 L484.68 334.36 L486.64 334.36 L488.62 334.36 L490.6 334.36 L492.59 334.36 L494.6 334.36 L496.61 334.36 L498.63 334.36 L500.66 334.36 L502.71 334.36 L504.76 334.36 L506.82 334.36 L508.89 334.36 L510.97 334.36 L513.06 334.36 L515.16 334.36 L517.27 334.36 L519.39 334.36 L521.52 334.36 L523.66 334.36 L525.8 334.36 L527.96 334.36 L530.12 334.36 L532.3 334.36" fill="none" stroke="#0000ff" stroke-width="1.1" stroke-linejoin="round"/><path d="M349.06 334.36 L358.03 334.36 L358.08 204.94 L358.03 274.32 L358.17 275.01 L358.41 276.24 L358.72 277.8 L359.09 279.58 L359.52 281.54 L359.98 283.61 L360.49 285.77 L361.03 287.98 L361.61 290.21 L362.23 292.45 L362.87 294.67 L363.54 296.86 L364.25 299.01 L364.98 301.09 L365.73 303.12 L366.52 305.07 L367.33 306.94 L368.16 308.73 L369.01 310.43 L369.89 312.05 L370.79 313.58 L371.71 315.03 L372.66 316.38 L373.62 317.66 L374.6 318.85 L375.61 319.96 L376.63 321 L377.67 321.96 L378.74 322.86 L379.82 323.68 L380.91 324.45 L382.03 325.15 L383.16 325.8 L384.31 326.39 L385.48 326.94 L386.67 327.44 L387.87 327.9 L389.09 328.32 L390.32 328.7 L391.57 329.05 L392.84 329.37 L394.12 329.66 L395.41 329.93 L396.72 330.17 L398.05 330.39 L399.39 330.59 L400.75 330.78 L402.12 330.94 L403.5 331.1 L404.9 331.24 L406.32 331.36 L407.74 331.48 L409.18 331.59 L410.64 331.69 L412.11 331.78 L413.59 331.87 L415.08 331.95 L416.59 332.02 L418.11 332.09 L419.64 332.15 L421.19 332.21 L422.75 332.27 L424.32 332.32 L425.91 332.37 L427.5 332.42 L429.11 332.47 L430.73 332.51 L432.37 332.55 L434.01 332.59 L435.67 332.63 L437.34 332.67 L439.02 332.7 L440.72 332.74 L442.42 332.77 L444.14 332.8 L445.87 332.84 L447.6 332.87 L449.35 332.9 L451.12 332.93 L452.89 332.96 L454.67 332.99 L456.47 333.02 L458.28 333.04 L460.09 333.07 L461.92 333.1 L463.76 333.12 L465.61 333.15 L467.47 333.17 L469.34 333.2 L471.22 333.22 L473.11 333.25 L475.01 333.27 L476.93 333.29 L478.85 333.32 L480.78 333.34 L482.73 333.36 L484.68 333.38 L486.64 333.4 L488.62 333.42 L490.6 333.44 L492.59 333.46 L494.6 333.48 L496.61 333.5 L498.63 333.52 L500.66 333.54 L502.71 333.56 L504.76 333.58 L506.82 333.6 L508.89 333.61 L510.97 333.63 L513.06 333.65 L515.16 333.66 L517.27 333.68 L519.39 333.7 L521.52 333.71 L523.66 333.73 L525.8 333.74 L527.96 333.76 L530.12 333.77 L532.3 333.78" fill="none" stroke="#ff0000" stroke-width="1.15" stroke-linejoin="round"/><rect x="335.6" y="187.6" width="201.9" height="160.1" fill="none" stroke="#000" stroke-width="2.1"/><line x1="358.03" y1="347.7" x2="358.03" y2="351" stroke="#000" stroke-width="1.5"/><line x1="402.9" y1="347.7" x2="402.9" y2="351" stroke="#000" stroke-width="1.5"/><line x1="447.77" y1="347.7" x2="447.77" y2="351" stroke="#000" stroke-width="1.5"/><line x1="492.63" y1="347.7" x2="492.63" y2="351" stroke="#000" stroke-width="1.5"/><line x1="537.5" y1="347.7" x2="537.5" y2="351" stroke="#000" stroke-width="1.5"/><line x1="335.6" y1="347.7" x2="335.6" y2="349.4" stroke="#000" stroke-width="1.3"/><line x1="380.47" y1="347.7" x2="380.47" y2="349.4" stroke="#000" stroke-width="1.3"/><line x1="425.33" y1="347.7" x2="425.33" y2="349.4" stroke="#000" stroke-width="1.3"/><line x1="470.2" y1="347.7" x2="470.2" y2="349.4" stroke="#000" stroke-width="1.3"/><line x1="515.07" y1="347.7" x2="515.07" y2="349.4" stroke="#000" stroke-width="1.3"/><line x1="332.3" y1="334.36" x2="335.6" y2="334.36" stroke="#000" stroke-width="1.5"/><line x1="332.3" y1="307.67" x2="335.6" y2="307.67" stroke="#000" stroke-width="1.5"/><line x1="332.3" y1="280.99" x2="335.6" y2="280.99" stroke="#000" stroke-width="1.5"/><line x1="332.3" y1="254.31" x2="335.6" y2="254.31" stroke="#000" stroke-width="1.5"/><line x1="332.3" y1="227.62" x2="335.6" y2="227.62" stroke="#000" stroke-width="1.5"/><line x1="332.3" y1="200.94" x2="335.6" y2="200.94" stroke="#000" stroke-width="1.5"/><line x1="333.9" y1="347.7" x2="335.6" y2="347.7" stroke="#000" stroke-width="1.3"/><line x1="333.9" y1="321.02" x2="335.6" y2="321.02" stroke="#000" stroke-width="1.3"/><line x1="333.9" y1="294.33" x2="335.6" y2="294.33" stroke="#000" stroke-width="1.3"/><line x1="333.9" y1="267.65" x2="335.6" y2="267.65" stroke="#000" stroke-width="1.3"/><line x1="333.9" y1="240.97" x2="335.6" y2="240.97" stroke="#000" stroke-width="1.3"/><line x1="333.9" y1="214.28" x2="335.6" y2="214.28" stroke="#000" stroke-width="1.3"/><line x1="333.9" y1="187.6" x2="335.6" y2="187.6" stroke="#000" stroke-width="1.3"/><text transform="translate(358.03 358.7) scale(1.05 0.86)" font-size="7.5" text-anchor="middle" stroke="#000" stroke-width="0.12">0</text><text transform="translate(402.9 358.7) scale(1.05 0.86)" font-size="7.5" text-anchor="middle" stroke="#000" stroke-width="0.12">500</text><text transform="translate(447.77 358.7) scale(1.05 0.86)" font-size="7.5" text-anchor="middle" stroke="#000" stroke-width="0.12">1000</text><text transform="translate(492.63 358.7) scale(1.05 0.86)" font-size="7.5" text-anchor="middle" stroke="#000" stroke-width="0.12">1500</text><text transform="translate(537.5 358.7) scale(1.05 0.86)" font-size="7.5" text-anchor="middle" stroke="#000" stroke-width="0.12">2000</text><text transform="translate(331.2 336.53) scale(1.05 0.86)" font-size="7.5" text-anchor="end" stroke="#000" stroke-width="0.12">0.0</text><text transform="translate(331.2 309.85) scale(1.05 0.86)" font-size="7.5" text-anchor="end" stroke="#000" stroke-width="0.12">0.2</text><text transform="translate(331.2 283.17) scale(1.05 0.86)" font-size="7.5" text-anchor="end" stroke="#000" stroke-width="0.12">0.4</text><text transform="translate(331.2 256.48) scale(1.05 0.86)" font-size="7.5" text-anchor="end" stroke="#000" stroke-width="0.12">0.6</text><text transform="translate(331.2 229.8) scale(1.05 0.86)" font-size="7.5" text-anchor="end" stroke="#000" stroke-width="0.12">0.8</text><text transform="translate(331.2 203.12) scale(1.05 0.86)" font-size="7.5" text-anchor="end" stroke="#000" stroke-width="0.12">1.0</text><text x="436.55" y="369.6" font-size="9.0" text-anchor="middle" stroke="#000" stroke-width="0.15">Delay time (ps)</text><text transform="translate(317 267.65) rotate(-90)" font-size="9.0" text-anchor="middle" stroke="#000" stroke-width="0.15">Intensity (arb. units)</text><text transform="translate(310.2 194.2) scale(0.97 0.92)" font-size="8.8" stroke="#000" stroke-width="0.22">(d)</text><circle cx="466.8" cy="194.5" r="1.35" fill="#fff" stroke="#202020" stroke-width="0.65"/><text transform="translate(477.7 196.97) scale(1.01 0.93)" font-size="7.5" stroke="#000" stroke-width="0.22">240+800 nm</text><line x1="458.3" y1="204.4" x2="475" y2="204.4" stroke="#ff00ff" stroke-width="1.2"/><text transform="translate(477.7 206.88) scale(1.01 0.93)" font-size="7.5" fill="#ff00ff" stroke="#ff00ff" stroke-width="0.22">τ<tspan font-size="5.25" dy="1.88">1</tspan><tspan dy="-1.88">=142±7.12 fs</tspan></text><line x1="458.3" y1="215.5" x2="475" y2="215.5" stroke="#0000ff" stroke-width="1.2"/><text transform="translate(477.7 217.97) scale(1.01 0.93)" font-size="7.5" fill="#0000ff" stroke="#0000ff" stroke-width="0.22">τ<tspan font-size="5.25" dy="1.88">2</tspan><tspan dy="-1.88">=121±6.03 ps</tspan></text><line x1="458.3" y1="226.7" x2="475" y2="226.7" stroke="#0a8a0a" stroke-width="1.2"/><text transform="translate(477.7 229.17) scale(1.01 0.93)" font-size="7.5" fill="#0a8a0a" stroke="#0a8a0a" stroke-width="0.22">τ<tspan font-size="5.25" dy="1.88">3</tspan><tspan dy="-1.88">=1000±50.00 ps</tspan></text><line x1="458.3" y1="237.6" x2="475" y2="237.6" stroke="#ff0000" stroke-width="1.2"/><text transform="translate(477.7 240.07) scale(1.01 0.93)" font-size="7.5" fill="#ff0000" stroke="#ff0000" stroke-width="0.22">Sum fit</text></g>
</svg>
</body></html>
